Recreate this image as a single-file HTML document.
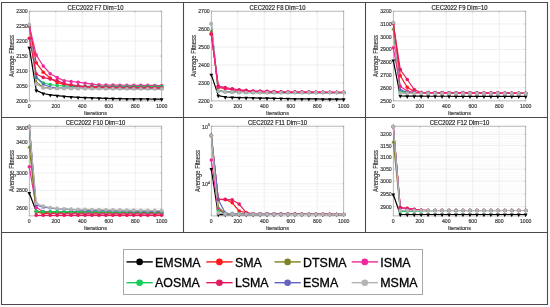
<!DOCTYPE html><html><head><meta charset="utf-8"><style>html,body{margin:0;padding:0;background:#fff;overflow:hidden}svg{display:block;will-change:transform}text{font-family:"Liberation Sans", sans-serif}</style></head><body>
<svg width="550" height="307" viewBox="0 0 550 307">
<rect width="550" height="307" fill="#fff"/>
<g stroke="#e4e4e4" stroke-width="0.6"><line x1="55.78" y1="11.2" x2="55.78" y2="100.9"/><line x1="82.26" y1="11.2" x2="82.26" y2="100.9"/><line x1="108.74" y1="11.2" x2="108.74" y2="100.9"/><line x1="135.22" y1="11.2" x2="135.22" y2="100.9"/><line x1="29.3" y1="85.95" x2="161.7" y2="85.95"/><line x1="29.3" y1="71" x2="161.7" y2="71"/><line x1="29.3" y1="56.05" x2="161.7" y2="56.05"/><line x1="29.3" y1="41.1" x2="161.7" y2="41.1"/><line x1="29.3" y1="26.15" x2="161.7" y2="26.15"/></g>
<g stroke="#a0a0a0" stroke-width="0.6"><line x1="29.3" y1="100.9" x2="29.3" y2="99.6"/><line x1="29.3" y1="11.2" x2="29.3" y2="12.5"/><line x1="55.78" y1="100.9" x2="55.78" y2="99.6"/><line x1="55.78" y1="11.2" x2="55.78" y2="12.5"/><line x1="82.26" y1="100.9" x2="82.26" y2="99.6"/><line x1="82.26" y1="11.2" x2="82.26" y2="12.5"/><line x1="108.74" y1="100.9" x2="108.74" y2="99.6"/><line x1="108.74" y1="11.2" x2="108.74" y2="12.5"/><line x1="135.22" y1="100.9" x2="135.22" y2="99.6"/><line x1="135.22" y1="11.2" x2="135.22" y2="12.5"/><line x1="161.7" y1="100.9" x2="161.7" y2="99.6"/><line x1="161.7" y1="11.2" x2="161.7" y2="12.5"/><line x1="29.3" y1="100.9" x2="30.6" y2="100.9"/><line x1="161.7" y1="100.9" x2="160.4" y2="100.9"/><line x1="29.3" y1="85.95" x2="30.6" y2="85.95"/><line x1="161.7" y1="85.95" x2="160.4" y2="85.95"/><line x1="29.3" y1="71" x2="30.6" y2="71"/><line x1="161.7" y1="71" x2="160.4" y2="71"/><line x1="29.3" y1="56.05" x2="30.6" y2="56.05"/><line x1="161.7" y1="56.05" x2="160.4" y2="56.05"/><line x1="29.3" y1="41.1" x2="30.6" y2="41.1"/><line x1="161.7" y1="41.1" x2="160.4" y2="41.1"/><line x1="29.3" y1="26.15" x2="30.6" y2="26.15"/><line x1="161.7" y1="26.15" x2="160.4" y2="26.15"/><line x1="29.3" y1="11.2" x2="30.6" y2="11.2"/><line x1="161.7" y1="11.2" x2="160.4" y2="11.2"/></g>
<rect x="29.3" y="11.2" width="132.4" height="89.7" fill="none" stroke="#a6a6a6" stroke-width="0.8"/>
<polyline fill="none" stroke="#000000" stroke-width="1.2" stroke-linejoin="round" points="29.3,47.7 36.27,90.4 43.24,93.5 50.21,94.8 57.17,95.6 64.14,96.4 71.11,96.85 78.08,97.3 85.05,97.6 92.02,97.9 98.98,98.15 105.95,98.4 112.92,98.53 119.89,98.65 126.86,98.78 133.83,98.9 140.79,98.95 147.76,99 154.73,99.05 161.7,99.1"/>
<polyline fill="none" stroke="#808026" stroke-width="1.2" stroke-linejoin="round" points="29.3,26.5 36.27,82 43.24,87.5 50.21,87.95 57.17,88.4 64.14,88.43 71.11,88.45 78.08,88.48 85.05,88.51 92.02,88.53 98.98,88.56 105.95,88.59 112.92,88.61 119.89,88.64 126.86,88.67 133.83,88.69 140.79,88.72 147.76,88.75 154.73,88.77 161.7,88.8"/>
<polyline fill="none" stroke="#14cc5a" stroke-width="1.2" stroke-linejoin="round" points="29.3,25 36.27,77.4 43.24,83 50.21,84.5 57.17,85.5 64.14,86 71.11,86.15 78.08,86.3 85.05,86.31 92.02,86.32 98.98,86.33 105.95,86.33 112.92,86.34 119.89,86.35 126.86,86.36 133.83,86.37 140.79,86.38 147.76,86.38 154.73,86.39 161.7,86.4"/>
<polyline fill="none" stroke="#6464c0" stroke-width="1.2" stroke-linejoin="round" points="29.3,24.6 36.27,77.4 43.24,84.2 50.21,87 57.17,88 64.14,88.05 71.11,88.11 78.08,88.16 85.05,88.21 92.02,88.27 98.98,88.32 105.95,88.37 112.92,88.43 119.89,88.48 126.86,88.53 133.83,88.59 140.79,88.64 147.76,88.69 154.73,88.75 161.7,88.8"/>
<polyline fill="none" stroke="#b4b4b4" stroke-width="1.2" stroke-linejoin="round" points="29.3,24.6 36.27,84 43.24,88 50.21,88.3 57.17,88.6 64.14,88.62 71.11,88.64 78.08,88.66 85.05,88.68 92.02,88.7 98.98,88.72 105.95,88.74 112.92,88.76 119.89,88.78 126.86,88.8 133.83,88.82 140.79,88.84 147.76,88.86 154.73,88.88 161.7,88.9"/>
<polyline fill="none" stroke="#ff1a1a" stroke-width="1.2" stroke-linejoin="round" points="29.3,26 36.27,62.8 43.24,72.2 50.21,78 57.17,82.7 64.14,84.3 71.11,85.5 78.08,86.3 85.05,87 92.02,87.15 98.98,87.3 105.95,87.45 112.92,87.6 119.89,87.63 126.86,87.66 133.83,87.69 140.79,87.71 147.76,87.74 154.73,87.77 161.7,87.8"/>
<polyline fill="none" stroke="#e6195c" stroke-width="1.2" stroke-linejoin="round" points="29.3,38.2 36.27,74 43.24,77.4 50.21,79.1 57.17,80.6 64.14,83.5 71.11,84.9 78.08,85.9 85.05,86.6 92.02,86.83 98.98,87.07 105.95,87.3 112.92,87.36 119.89,87.42 126.86,87.49 133.83,87.55 140.79,87.61 147.76,87.67 154.73,87.74 161.7,87.8"/>
<polyline fill="none" stroke="#f0289c" stroke-width="1.2" stroke-linejoin="round" points="29.3,26 36.27,55.1 43.24,66 50.21,73.7 57.17,77.6 64.14,80.7 71.11,81.5 78.08,82.2 85.05,83.2 92.02,84.2 98.98,84.8 105.95,85.1 112.92,85.15 119.89,85.2 126.86,85.25 133.83,85.3 140.79,85.35 147.76,85.4 154.73,85.45 161.7,85.5"/>
<path d="M27.45 46.8L31.15 46.8L29.3 50.4Z" fill="#000000"/><path d="M34.42 89.5L38.12 89.5L36.27 93.1Z" fill="#000000"/><path d="M41.39 92.6L45.09 92.6L43.24 96.2Z" fill="#000000"/><path d="M48.36 93.9L52.06 93.9L50.21 97.5Z" fill="#000000"/><path d="M55.32 94.7L59.02 94.7L57.17 98.3Z" fill="#000000"/><path d="M62.29 95.5L65.99 95.5L64.14 99.1Z" fill="#000000"/><path d="M69.26 95.95L72.96 95.95L71.11 99.55Z" fill="#000000"/><path d="M76.23 96.4L79.93 96.4L78.08 100Z" fill="#000000"/><path d="M83.2 96.7L86.9 96.7L85.05 100.3Z" fill="#000000"/><path d="M90.17 97L93.87 97L92.02 100.6Z" fill="#000000"/><path d="M97.13 97.25L100.83 97.25L98.98 100.85Z" fill="#000000"/><path d="M104.1 97.5L107.8 97.5L105.95 101.1Z" fill="#000000"/><path d="M111.07 97.62L114.77 97.62L112.92 101.23Z" fill="#000000"/><path d="M118.04 97.75L121.74 97.75L119.89 101.35Z" fill="#000000"/><path d="M125.01 97.88L128.71 97.88L126.86 101.48Z" fill="#000000"/><path d="M131.98 98L135.68 98L133.83 101.6Z" fill="#000000"/><path d="M138.94 98.05L142.64 98.05L140.79 101.65Z" fill="#000000"/><path d="M145.91 98.1L149.61 98.1L147.76 101.7Z" fill="#000000"/><path d="M152.88 98.15L156.58 98.15L154.73 101.75Z" fill="#000000"/><path d="M159.85 98.2L163.55 98.2L161.7 101.8Z" fill="#000000"/>
<circle cx="29.3" cy="26" r="1.8" fill="#ff1a1a"/><circle cx="36.27" cy="62.8" r="1.8" fill="#ff1a1a"/><circle cx="43.24" cy="72.2" r="1.8" fill="#ff1a1a"/><circle cx="50.21" cy="78" r="1.8" fill="#ff1a1a"/><circle cx="57.17" cy="82.7" r="1.8" fill="#ff1a1a"/><circle cx="64.14" cy="84.3" r="1.8" fill="#ff1a1a"/><circle cx="71.11" cy="85.5" r="1.8" fill="#ff1a1a"/><circle cx="78.08" cy="86.3" r="1.8" fill="#ff1a1a"/><circle cx="85.05" cy="87" r="1.8" fill="#ff1a1a"/><circle cx="92.02" cy="87.15" r="1.8" fill="#ff1a1a"/><circle cx="98.98" cy="87.3" r="1.8" fill="#ff1a1a"/><circle cx="105.95" cy="87.45" r="1.8" fill="#ff1a1a"/><circle cx="112.92" cy="87.6" r="1.8" fill="#ff1a1a"/><circle cx="119.89" cy="87.63" r="1.8" fill="#ff1a1a"/><circle cx="126.86" cy="87.66" r="1.8" fill="#ff1a1a"/><circle cx="133.83" cy="87.69" r="1.8" fill="#ff1a1a"/><circle cx="140.79" cy="87.71" r="1.8" fill="#ff1a1a"/><circle cx="147.76" cy="87.74" r="1.8" fill="#ff1a1a"/><circle cx="154.73" cy="87.77" r="1.8" fill="#ff1a1a"/><circle cx="161.7" cy="87.8" r="1.8" fill="#ff1a1a"/>
<path d="M27.4 27.8L31.2 27.8L29.3 24.3Z" fill="#808026"/><path d="M34.37 83.3L38.17 83.3L36.27 79.8Z" fill="#808026"/><path d="M41.34 88.8L45.14 88.8L43.24 85.3Z" fill="#808026"/><path d="M48.31 89.25L52.11 89.25L50.21 85.75Z" fill="#808026"/><path d="M55.27 89.7L59.07 89.7L57.17 86.2Z" fill="#808026"/><path d="M62.24 89.73L66.04 89.73L64.14 86.23Z" fill="#808026"/><path d="M69.21 89.75L73.01 89.75L71.11 86.25Z" fill="#808026"/><path d="M76.18 89.78L79.98 89.78L78.08 86.28Z" fill="#808026"/><path d="M83.15 89.81L86.95 89.81L85.05 86.31Z" fill="#808026"/><path d="M90.12 89.83L93.92 89.83L92.02 86.33Z" fill="#808026"/><path d="M97.08 89.86L100.88 89.86L98.98 86.36Z" fill="#808026"/><path d="M104.05 89.89L107.85 89.89L105.95 86.39Z" fill="#808026"/><path d="M111.02 89.91L114.82 89.91L112.92 86.41Z" fill="#808026"/><path d="M117.99 89.94L121.79 89.94L119.89 86.44Z" fill="#808026"/><path d="M124.96 89.97L128.76 89.97L126.86 86.47Z" fill="#808026"/><path d="M131.93 89.99L135.73 89.99L133.83 86.49Z" fill="#808026"/><path d="M138.89 90.02L142.69 90.02L140.79 86.52Z" fill="#808026"/><path d="M145.86 90.05L149.66 90.05L147.76 86.55Z" fill="#808026"/><path d="M152.83 90.07L156.63 90.07L154.73 86.57Z" fill="#808026"/><path d="M159.8 90.1L163.6 90.1L161.7 86.6Z" fill="#808026"/>
<circle cx="29.3" cy="26" r="1.8" fill="#f0289c"/><circle cx="36.27" cy="55.1" r="1.8" fill="#f0289c"/><circle cx="43.24" cy="66" r="1.8" fill="#f0289c"/><circle cx="50.21" cy="73.7" r="1.8" fill="#f0289c"/><circle cx="57.17" cy="77.6" r="1.8" fill="#f0289c"/><circle cx="64.14" cy="80.7" r="1.8" fill="#f0289c"/><circle cx="71.11" cy="81.5" r="1.8" fill="#f0289c"/><circle cx="78.08" cy="82.2" r="1.8" fill="#f0289c"/><circle cx="85.05" cy="83.2" r="1.8" fill="#f0289c"/><circle cx="92.02" cy="84.2" r="1.8" fill="#f0289c"/><circle cx="98.98" cy="84.8" r="1.8" fill="#f0289c"/><circle cx="105.95" cy="85.1" r="1.8" fill="#f0289c"/><circle cx="112.92" cy="85.15" r="1.8" fill="#f0289c"/><circle cx="119.89" cy="85.2" r="1.8" fill="#f0289c"/><circle cx="126.86" cy="85.25" r="1.8" fill="#f0289c"/><circle cx="133.83" cy="85.3" r="1.8" fill="#f0289c"/><circle cx="140.79" cy="85.35" r="1.8" fill="#f0289c"/><circle cx="147.76" cy="85.4" r="1.8" fill="#f0289c"/><circle cx="154.73" cy="85.45" r="1.8" fill="#f0289c"/><circle cx="161.7" cy="85.5" r="1.8" fill="#f0289c"/>
<circle cx="29.3" cy="25" r="1.8" fill="#14cc5a"/><circle cx="36.27" cy="77.4" r="1.8" fill="#14cc5a"/><circle cx="43.24" cy="83" r="1.8" fill="#14cc5a"/><circle cx="50.21" cy="84.5" r="1.8" fill="#14cc5a"/><circle cx="57.17" cy="85.5" r="1.8" fill="#14cc5a"/><circle cx="64.14" cy="86" r="1.8" fill="#14cc5a"/><circle cx="71.11" cy="86.15" r="1.8" fill="#14cc5a"/><circle cx="78.08" cy="86.3" r="1.8" fill="#14cc5a"/><circle cx="85.05" cy="86.31" r="1.8" fill="#14cc5a"/><circle cx="92.02" cy="86.32" r="1.8" fill="#14cc5a"/><circle cx="98.98" cy="86.33" r="1.8" fill="#14cc5a"/><circle cx="105.95" cy="86.33" r="1.8" fill="#14cc5a"/><circle cx="112.92" cy="86.34" r="1.8" fill="#14cc5a"/><circle cx="119.89" cy="86.35" r="1.8" fill="#14cc5a"/><circle cx="126.86" cy="86.36" r="1.8" fill="#14cc5a"/><circle cx="133.83" cy="86.37" r="1.8" fill="#14cc5a"/><circle cx="140.79" cy="86.38" r="1.8" fill="#14cc5a"/><circle cx="147.76" cy="86.38" r="1.8" fill="#14cc5a"/><circle cx="154.73" cy="86.39" r="1.8" fill="#14cc5a"/><circle cx="161.7" cy="86.4" r="1.8" fill="#14cc5a"/>
<circle cx="29.3" cy="38.2" r="1.8" fill="#e6195c"/><circle cx="36.27" cy="74" r="1.8" fill="#e6195c"/><circle cx="43.24" cy="77.4" r="1.8" fill="#e6195c"/><circle cx="50.21" cy="79.1" r="1.8" fill="#e6195c"/><circle cx="57.17" cy="80.6" r="1.8" fill="#e6195c"/><circle cx="64.14" cy="83.5" r="1.8" fill="#e6195c"/><circle cx="71.11" cy="84.9" r="1.8" fill="#e6195c"/><circle cx="78.08" cy="85.9" r="1.8" fill="#e6195c"/><circle cx="85.05" cy="86.6" r="1.8" fill="#e6195c"/><circle cx="92.02" cy="86.83" r="1.8" fill="#e6195c"/><circle cx="98.98" cy="87.07" r="1.8" fill="#e6195c"/><circle cx="105.95" cy="87.3" r="1.8" fill="#e6195c"/><circle cx="112.92" cy="87.36" r="1.8" fill="#e6195c"/><circle cx="119.89" cy="87.42" r="1.8" fill="#e6195c"/><circle cx="126.86" cy="87.49" r="1.8" fill="#e6195c"/><circle cx="133.83" cy="87.55" r="1.8" fill="#e6195c"/><circle cx="140.79" cy="87.61" r="1.8" fill="#e6195c"/><circle cx="147.76" cy="87.67" r="1.8" fill="#e6195c"/><circle cx="154.73" cy="87.74" r="1.8" fill="#e6195c"/><circle cx="161.7" cy="87.8" r="1.8" fill="#e6195c"/>
<path d="M27.4 25.9L31.2 25.9L29.3 22.4Z" fill="#6464c0"/><path d="M34.37 78.7L38.17 78.7L36.27 75.2Z" fill="#6464c0"/><path d="M41.34 85.5L45.14 85.5L43.24 82Z" fill="#6464c0"/><path d="M48.31 88.3L52.11 88.3L50.21 84.8Z" fill="#6464c0"/><path d="M55.27 89.3L59.07 89.3L57.17 85.8Z" fill="#6464c0"/><path d="M62.24 89.35L66.04 89.35L64.14 85.85Z" fill="#6464c0"/><path d="M69.21 89.41L73.01 89.41L71.11 85.91Z" fill="#6464c0"/><path d="M76.18 89.46L79.98 89.46L78.08 85.96Z" fill="#6464c0"/><path d="M83.15 89.51L86.95 89.51L85.05 86.01Z" fill="#6464c0"/><path d="M90.12 89.57L93.92 89.57L92.02 86.07Z" fill="#6464c0"/><path d="M97.08 89.62L100.88 89.62L98.98 86.12Z" fill="#6464c0"/><path d="M104.05 89.67L107.85 89.67L105.95 86.17Z" fill="#6464c0"/><path d="M111.02 89.73L114.82 89.73L112.92 86.23Z" fill="#6464c0"/><path d="M117.99 89.78L121.79 89.78L119.89 86.28Z" fill="#6464c0"/><path d="M124.96 89.83L128.76 89.83L126.86 86.33Z" fill="#6464c0"/><path d="M131.93 89.89L135.73 89.89L133.83 86.39Z" fill="#6464c0"/><path d="M138.89 89.94L142.69 89.94L140.79 86.44Z" fill="#6464c0"/><path d="M145.86 89.99L149.66 89.99L147.76 86.49Z" fill="#6464c0"/><path d="M152.83 90.05L156.63 90.05L154.73 86.55Z" fill="#6464c0"/><path d="M159.8 90.1L163.6 90.1L161.7 86.6Z" fill="#6464c0"/>
<circle cx="29.3" cy="24.6" r="1.9" fill="#b4b4b4"/><circle cx="36.27" cy="84" r="1.9" fill="#b4b4b4"/><circle cx="43.24" cy="88" r="1.9" fill="#b4b4b4"/><circle cx="50.21" cy="88.3" r="1.9" fill="#b4b4b4"/><circle cx="57.17" cy="88.6" r="1.9" fill="#b4b4b4"/><circle cx="64.14" cy="88.62" r="1.9" fill="#b4b4b4"/><circle cx="71.11" cy="88.64" r="1.9" fill="#b4b4b4"/><circle cx="78.08" cy="88.66" r="1.9" fill="#b4b4b4"/><circle cx="85.05" cy="88.68" r="1.9" fill="#b4b4b4"/><circle cx="92.02" cy="88.7" r="1.9" fill="#b4b4b4"/><circle cx="98.98" cy="88.72" r="1.9" fill="#b4b4b4"/><circle cx="105.95" cy="88.74" r="1.9" fill="#b4b4b4"/><circle cx="112.92" cy="88.76" r="1.9" fill="#b4b4b4"/><circle cx="119.89" cy="88.78" r="1.9" fill="#b4b4b4"/><circle cx="126.86" cy="88.8" r="1.9" fill="#b4b4b4"/><circle cx="133.83" cy="88.82" r="1.9" fill="#b4b4b4"/><circle cx="140.79" cy="88.84" r="1.9" fill="#b4b4b4"/><circle cx="147.76" cy="88.86" r="1.9" fill="#b4b4b4"/><circle cx="154.73" cy="88.88" r="1.9" fill="#b4b4b4"/><circle cx="161.7" cy="88.9" r="1.9" fill="#b4b4b4"/>
<g fill="#333" stroke="#333" stroke-width="0.15"><text transform="translate(27.7 102.9) scale(1 1.12)" text-anchor="end" font-size="5.2">2000</text><text transform="translate(27.7 87.95) scale(1 1.12)" text-anchor="end" font-size="5.2">2050</text><text transform="translate(27.7 73) scale(1 1.12)" text-anchor="end" font-size="5.2">2100</text><text transform="translate(27.7 58.05) scale(1 1.12)" text-anchor="end" font-size="5.2">2150</text><text transform="translate(27.7 43.1) scale(1 1.12)" text-anchor="end" font-size="5.2">2200</text><text transform="translate(27.7 28.15) scale(1 1.12)" text-anchor="end" font-size="5.2">2250</text><text transform="translate(27.7 13.2) scale(1 1.12)" text-anchor="end" font-size="5.2">2300</text><text transform="translate(29.3 107.5) scale(1 1.12)" text-anchor="middle" font-size="5.2">0</text><text transform="translate(55.78 107.5) scale(1 1.12)" text-anchor="middle" font-size="5.2">200</text><text transform="translate(82.26 107.5) scale(1 1.12)" text-anchor="middle" font-size="5.2">400</text><text transform="translate(108.74 107.5) scale(1 1.12)" text-anchor="middle" font-size="5.2">600</text><text transform="translate(135.22 107.5) scale(1 1.12)" text-anchor="middle" font-size="5.2">800</text><text transform="translate(161.7 107.5) scale(1 1.12)" text-anchor="middle" font-size="5.2">1000</text><text transform="translate(95.5 114.7) scale(1 1.12)" text-anchor="middle" font-size="5.6">Iterations</text><text transform="translate(14 56.05) rotate(-90) scale(1 1.12)" text-anchor="middle" font-size="5.8">Average Fitness</text></g>
<g fill="#222" stroke="#222" stroke-width="0.16"><text transform="translate(95.5 9.8) scale(1 1.12)" text-anchor="middle" font-size="5.9">CEC2022 F7 Dim=10</text></g>
<g stroke="#e4e4e4" stroke-width="0.6"><line x1="237.78" y1="11.2" x2="237.78" y2="100.9"/><line x1="264.26" y1="11.2" x2="264.26" y2="100.9"/><line x1="290.74" y1="11.2" x2="290.74" y2="100.9"/><line x1="317.22" y1="11.2" x2="317.22" y2="100.9"/><line x1="211.3" y1="83.02" x2="343.7" y2="83.02"/><line x1="211.3" y1="65.04" x2="343.7" y2="65.04"/><line x1="211.3" y1="47.06" x2="343.7" y2="47.06"/><line x1="211.3" y1="29.08" x2="343.7" y2="29.08"/></g>
<g stroke="#a0a0a0" stroke-width="0.6"><line x1="211.3" y1="100.9" x2="211.3" y2="99.6"/><line x1="211.3" y1="11.2" x2="211.3" y2="12.5"/><line x1="237.78" y1="100.9" x2="237.78" y2="99.6"/><line x1="237.78" y1="11.2" x2="237.78" y2="12.5"/><line x1="264.26" y1="100.9" x2="264.26" y2="99.6"/><line x1="264.26" y1="11.2" x2="264.26" y2="12.5"/><line x1="290.74" y1="100.9" x2="290.74" y2="99.6"/><line x1="290.74" y1="11.2" x2="290.74" y2="12.5"/><line x1="317.22" y1="100.9" x2="317.22" y2="99.6"/><line x1="317.22" y1="11.2" x2="317.22" y2="12.5"/><line x1="343.7" y1="100.9" x2="343.7" y2="99.6"/><line x1="343.7" y1="11.2" x2="343.7" y2="12.5"/><line x1="211.3" y1="101" x2="212.6" y2="101"/><line x1="343.7" y1="101" x2="342.4" y2="101"/><line x1="211.3" y1="83.02" x2="212.6" y2="83.02"/><line x1="343.7" y1="83.02" x2="342.4" y2="83.02"/><line x1="211.3" y1="65.04" x2="212.6" y2="65.04"/><line x1="343.7" y1="65.04" x2="342.4" y2="65.04"/><line x1="211.3" y1="47.06" x2="212.6" y2="47.06"/><line x1="343.7" y1="47.06" x2="342.4" y2="47.06"/><line x1="211.3" y1="29.08" x2="212.6" y2="29.08"/><line x1="343.7" y1="29.08" x2="342.4" y2="29.08"/><line x1="211.3" y1="11.1" x2="212.6" y2="11.1"/><line x1="343.7" y1="11.1" x2="342.4" y2="11.1"/></g>
<rect x="211.3" y="11.2" width="132.4" height="89.7" fill="none" stroke="#a6a6a6" stroke-width="0.8"/>
<polyline fill="none" stroke="#000000" stroke-width="1.2" stroke-linejoin="round" points="211.3,74.6 218.27,95.6 225.24,97 232.21,97.3 239.17,97.6 246.14,97.75 253.11,97.9 260.08,98.05 267.05,98.2 274.02,98.35 280.98,98.5 287.95,98.65 294.92,98.8 301.89,98.86 308.86,98.91 315.83,98.97 322.79,99.03 329.76,99.09 336.73,99.14 343.7,99.2"/>
<polyline fill="none" stroke="#808026" stroke-width="1.2" stroke-linejoin="round" points="211.3,31.2 218.27,90.5 225.24,91.5 232.21,91.9 239.17,92.3 246.14,92.38 253.11,92.45 260.08,92.52 267.05,92.6 274.02,92.61 280.98,92.62 287.95,92.63 294.92,92.64 301.89,92.65 308.86,92.65 315.83,92.66 322.79,92.67 329.76,92.68 336.73,92.69 343.7,92.7"/>
<polyline fill="none" stroke="#14cc5a" stroke-width="1.2" stroke-linejoin="round" points="211.3,23.8 218.27,91.2 225.24,92 232.21,92.25 239.17,92.5 246.14,92.53 253.11,92.55 260.08,92.57 267.05,92.6 274.02,92.6 280.98,92.6 287.95,92.6 294.92,92.6 301.89,92.6 308.86,92.6 315.83,92.6 322.79,92.6 329.76,92.6 336.73,92.6 343.7,92.6"/>
<polyline fill="none" stroke="#6464c0" stroke-width="1.2" stroke-linejoin="round" points="211.3,23.7 218.27,90.8 225.24,91.8 232.21,92.1 239.17,92.4 246.14,92.45 253.11,92.5 260.08,92.55 267.05,92.6 274.02,92.61 280.98,92.62 287.95,92.63 294.92,92.64 301.89,92.65 308.86,92.65 315.83,92.66 322.79,92.67 329.76,92.68 336.73,92.69 343.7,92.7"/>
<polyline fill="none" stroke="#b4b4b4" stroke-width="1.2" stroke-linejoin="round" points="211.3,23.8 218.27,91 225.24,92 232.21,92.25 239.17,92.5 246.14,92.53 253.11,92.55 260.08,92.57 267.05,92.6 274.02,92.6 280.98,92.6 287.95,92.6 294.92,92.6 301.89,92.6 308.86,92.6 315.83,92.6 322.79,92.6 329.76,92.6 336.73,92.6 343.7,92.6"/>
<polyline fill="none" stroke="#ff1a1a" stroke-width="1.2" stroke-linejoin="round" points="211.3,34 218.27,87.5 225.24,88.6 232.21,89.6 239.17,90.6 246.14,91.1 253.11,91.6 260.08,91.75 267.05,91.9 274.02,92.05 280.98,92.2 287.95,92.23 294.92,92.27 301.89,92.3 308.86,92.33 315.83,92.37 322.79,92.4 329.76,92.43 336.73,92.47 343.7,92.5"/>
<polyline fill="none" stroke="#e6195c" stroke-width="1.2" stroke-linejoin="round" points="211.3,34 218.27,86 225.24,87.6 232.21,88.8 239.17,89.8 246.14,90.4 253.11,91 260.08,91.2 267.05,91.4 274.02,91.6 280.98,91.8 287.95,92 294.92,92.05 301.89,92.1 308.86,92.15 315.83,92.2 322.79,92.25 329.76,92.3 336.73,92.35 343.7,92.4"/>
<polyline fill="none" stroke="#f0289c" stroke-width="1.2" stroke-linejoin="round" points="211.3,34.2 218.27,86.4 225.24,88.2 232.21,89.2 239.17,90.2 246.14,90.7 253.11,91.2 260.08,91.4 267.05,91.6 274.02,91.8 280.98,92 287.95,92.04 294.92,92.09 301.89,92.13 308.86,92.18 315.83,92.22 322.79,92.27 329.76,92.31 336.73,92.36 343.7,92.4"/>
<path d="M209.45 73.7L213.15 73.7L211.3 77.3Z" fill="#000000"/><path d="M216.42 94.7L220.12 94.7L218.27 98.3Z" fill="#000000"/><path d="M223.39 96.1L227.09 96.1L225.24 99.7Z" fill="#000000"/><path d="M230.36 96.4L234.06 96.4L232.21 100Z" fill="#000000"/><path d="M237.32 96.7L241.02 96.7L239.17 100.3Z" fill="#000000"/><path d="M244.29 96.85L247.99 96.85L246.14 100.45Z" fill="#000000"/><path d="M251.26 97L254.96 97L253.11 100.6Z" fill="#000000"/><path d="M258.23 97.15L261.93 97.15L260.08 100.75Z" fill="#000000"/><path d="M265.2 97.3L268.9 97.3L267.05 100.9Z" fill="#000000"/><path d="M272.17 97.45L275.87 97.45L274.02 101.05Z" fill="#000000"/><path d="M279.13 97.6L282.83 97.6L280.98 101.2Z" fill="#000000"/><path d="M286.1 97.75L289.8 97.75L287.95 101.35Z" fill="#000000"/><path d="M293.07 97.9L296.77 97.9L294.92 101.5Z" fill="#000000"/><path d="M300.04 97.96L303.74 97.96L301.89 101.56Z" fill="#000000"/><path d="M307.01 98.01L310.71 98.01L308.86 101.61Z" fill="#000000"/><path d="M313.98 98.07L317.68 98.07L315.83 101.67Z" fill="#000000"/><path d="M320.94 98.13L324.64 98.13L322.79 101.73Z" fill="#000000"/><path d="M327.91 98.19L331.61 98.19L329.76 101.79Z" fill="#000000"/><path d="M334.88 98.24L338.58 98.24L336.73 101.84Z" fill="#000000"/><path d="M341.85 98.3L345.55 98.3L343.7 101.9Z" fill="#000000"/>
<circle cx="211.3" cy="34" r="1.8" fill="#ff1a1a"/><circle cx="218.27" cy="87.5" r="1.8" fill="#ff1a1a"/><circle cx="225.24" cy="88.6" r="1.8" fill="#ff1a1a"/><circle cx="232.21" cy="89.6" r="1.8" fill="#ff1a1a"/><circle cx="239.17" cy="90.6" r="1.8" fill="#ff1a1a"/><circle cx="246.14" cy="91.1" r="1.8" fill="#ff1a1a"/><circle cx="253.11" cy="91.6" r="1.8" fill="#ff1a1a"/><circle cx="260.08" cy="91.75" r="1.8" fill="#ff1a1a"/><circle cx="267.05" cy="91.9" r="1.8" fill="#ff1a1a"/><circle cx="274.02" cy="92.05" r="1.8" fill="#ff1a1a"/><circle cx="280.98" cy="92.2" r="1.8" fill="#ff1a1a"/><circle cx="287.95" cy="92.23" r="1.8" fill="#ff1a1a"/><circle cx="294.92" cy="92.27" r="1.8" fill="#ff1a1a"/><circle cx="301.89" cy="92.3" r="1.8" fill="#ff1a1a"/><circle cx="308.86" cy="92.33" r="1.8" fill="#ff1a1a"/><circle cx="315.83" cy="92.37" r="1.8" fill="#ff1a1a"/><circle cx="322.79" cy="92.4" r="1.8" fill="#ff1a1a"/><circle cx="329.76" cy="92.43" r="1.8" fill="#ff1a1a"/><circle cx="336.73" cy="92.47" r="1.8" fill="#ff1a1a"/><circle cx="343.7" cy="92.5" r="1.8" fill="#ff1a1a"/>
<path d="M209.4 32.5L213.2 32.5L211.3 29Z" fill="#808026"/><path d="M216.37 91.8L220.17 91.8L218.27 88.3Z" fill="#808026"/><path d="M223.34 92.8L227.14 92.8L225.24 89.3Z" fill="#808026"/><path d="M230.31 93.2L234.11 93.2L232.21 89.7Z" fill="#808026"/><path d="M237.27 93.6L241.07 93.6L239.17 90.1Z" fill="#808026"/><path d="M244.24 93.67L248.04 93.67L246.14 90.17Z" fill="#808026"/><path d="M251.21 93.75L255.01 93.75L253.11 90.25Z" fill="#808026"/><path d="M258.18 93.82L261.98 93.82L260.08 90.32Z" fill="#808026"/><path d="M265.15 93.9L268.95 93.9L267.05 90.4Z" fill="#808026"/><path d="M272.12 93.91L275.92 93.91L274.02 90.41Z" fill="#808026"/><path d="M279.08 93.92L282.88 93.92L280.98 90.42Z" fill="#808026"/><path d="M286.05 93.93L289.85 93.93L287.95 90.43Z" fill="#808026"/><path d="M293.02 93.94L296.82 93.94L294.92 90.44Z" fill="#808026"/><path d="M299.99 93.95L303.79 93.95L301.89 90.45Z" fill="#808026"/><path d="M306.96 93.95L310.76 93.95L308.86 90.45Z" fill="#808026"/><path d="M313.93 93.96L317.73 93.96L315.83 90.46Z" fill="#808026"/><path d="M320.89 93.97L324.69 93.97L322.79 90.47Z" fill="#808026"/><path d="M327.86 93.98L331.66 93.98L329.76 90.48Z" fill="#808026"/><path d="M334.83 93.99L338.63 93.99L336.73 90.49Z" fill="#808026"/><path d="M341.8 94L345.6 94L343.7 90.5Z" fill="#808026"/>
<circle cx="211.3" cy="34.2" r="1.8" fill="#f0289c"/><circle cx="218.27" cy="86.4" r="1.8" fill="#f0289c"/><circle cx="225.24" cy="88.2" r="1.8" fill="#f0289c"/><circle cx="232.21" cy="89.2" r="1.8" fill="#f0289c"/><circle cx="239.17" cy="90.2" r="1.8" fill="#f0289c"/><circle cx="246.14" cy="90.7" r="1.8" fill="#f0289c"/><circle cx="253.11" cy="91.2" r="1.8" fill="#f0289c"/><circle cx="260.08" cy="91.4" r="1.8" fill="#f0289c"/><circle cx="267.05" cy="91.6" r="1.8" fill="#f0289c"/><circle cx="274.02" cy="91.8" r="1.8" fill="#f0289c"/><circle cx="280.98" cy="92" r="1.8" fill="#f0289c"/><circle cx="287.95" cy="92.04" r="1.8" fill="#f0289c"/><circle cx="294.92" cy="92.09" r="1.8" fill="#f0289c"/><circle cx="301.89" cy="92.13" r="1.8" fill="#f0289c"/><circle cx="308.86" cy="92.18" r="1.8" fill="#f0289c"/><circle cx="315.83" cy="92.22" r="1.8" fill="#f0289c"/><circle cx="322.79" cy="92.27" r="1.8" fill="#f0289c"/><circle cx="329.76" cy="92.31" r="1.8" fill="#f0289c"/><circle cx="336.73" cy="92.36" r="1.8" fill="#f0289c"/><circle cx="343.7" cy="92.4" r="1.8" fill="#f0289c"/>
<circle cx="211.3" cy="23.8" r="1.8" fill="#14cc5a"/><circle cx="218.27" cy="91.2" r="1.8" fill="#14cc5a"/><circle cx="225.24" cy="92" r="1.8" fill="#14cc5a"/><circle cx="232.21" cy="92.25" r="1.8" fill="#14cc5a"/><circle cx="239.17" cy="92.5" r="1.8" fill="#14cc5a"/><circle cx="246.14" cy="92.53" r="1.8" fill="#14cc5a"/><circle cx="253.11" cy="92.55" r="1.8" fill="#14cc5a"/><circle cx="260.08" cy="92.57" r="1.8" fill="#14cc5a"/><circle cx="267.05" cy="92.6" r="1.8" fill="#14cc5a"/><circle cx="274.02" cy="92.6" r="1.8" fill="#14cc5a"/><circle cx="280.98" cy="92.6" r="1.8" fill="#14cc5a"/><circle cx="287.95" cy="92.6" r="1.8" fill="#14cc5a"/><circle cx="294.92" cy="92.6" r="1.8" fill="#14cc5a"/><circle cx="301.89" cy="92.6" r="1.8" fill="#14cc5a"/><circle cx="308.86" cy="92.6" r="1.8" fill="#14cc5a"/><circle cx="315.83" cy="92.6" r="1.8" fill="#14cc5a"/><circle cx="322.79" cy="92.6" r="1.8" fill="#14cc5a"/><circle cx="329.76" cy="92.6" r="1.8" fill="#14cc5a"/><circle cx="336.73" cy="92.6" r="1.8" fill="#14cc5a"/><circle cx="343.7" cy="92.6" r="1.8" fill="#14cc5a"/>
<circle cx="211.3" cy="34" r="1.8" fill="#e6195c"/><circle cx="218.27" cy="86" r="1.8" fill="#e6195c"/><circle cx="225.24" cy="87.6" r="1.8" fill="#e6195c"/><circle cx="232.21" cy="88.8" r="1.8" fill="#e6195c"/><circle cx="239.17" cy="89.8" r="1.8" fill="#e6195c"/><circle cx="246.14" cy="90.4" r="1.8" fill="#e6195c"/><circle cx="253.11" cy="91" r="1.8" fill="#e6195c"/><circle cx="260.08" cy="91.2" r="1.8" fill="#e6195c"/><circle cx="267.05" cy="91.4" r="1.8" fill="#e6195c"/><circle cx="274.02" cy="91.6" r="1.8" fill="#e6195c"/><circle cx="280.98" cy="91.8" r="1.8" fill="#e6195c"/><circle cx="287.95" cy="92" r="1.8" fill="#e6195c"/><circle cx="294.92" cy="92.05" r="1.8" fill="#e6195c"/><circle cx="301.89" cy="92.1" r="1.8" fill="#e6195c"/><circle cx="308.86" cy="92.15" r="1.8" fill="#e6195c"/><circle cx="315.83" cy="92.2" r="1.8" fill="#e6195c"/><circle cx="322.79" cy="92.25" r="1.8" fill="#e6195c"/><circle cx="329.76" cy="92.3" r="1.8" fill="#e6195c"/><circle cx="336.73" cy="92.35" r="1.8" fill="#e6195c"/><circle cx="343.7" cy="92.4" r="1.8" fill="#e6195c"/>
<path d="M209.4 25L213.2 25L211.3 21.5Z" fill="#6464c0"/><path d="M216.37 92.1L220.17 92.1L218.27 88.6Z" fill="#6464c0"/><path d="M223.34 93.1L227.14 93.1L225.24 89.6Z" fill="#6464c0"/><path d="M230.31 93.4L234.11 93.4L232.21 89.9Z" fill="#6464c0"/><path d="M237.27 93.7L241.07 93.7L239.17 90.2Z" fill="#6464c0"/><path d="M244.24 93.75L248.04 93.75L246.14 90.25Z" fill="#6464c0"/><path d="M251.21 93.8L255.01 93.8L253.11 90.3Z" fill="#6464c0"/><path d="M258.18 93.85L261.98 93.85L260.08 90.35Z" fill="#6464c0"/><path d="M265.15 93.9L268.95 93.9L267.05 90.4Z" fill="#6464c0"/><path d="M272.12 93.91L275.92 93.91L274.02 90.41Z" fill="#6464c0"/><path d="M279.08 93.92L282.88 93.92L280.98 90.42Z" fill="#6464c0"/><path d="M286.05 93.93L289.85 93.93L287.95 90.43Z" fill="#6464c0"/><path d="M293.02 93.94L296.82 93.94L294.92 90.44Z" fill="#6464c0"/><path d="M299.99 93.95L303.79 93.95L301.89 90.45Z" fill="#6464c0"/><path d="M306.96 93.95L310.76 93.95L308.86 90.45Z" fill="#6464c0"/><path d="M313.93 93.96L317.73 93.96L315.83 90.46Z" fill="#6464c0"/><path d="M320.89 93.97L324.69 93.97L322.79 90.47Z" fill="#6464c0"/><path d="M327.86 93.98L331.66 93.98L329.76 90.48Z" fill="#6464c0"/><path d="M334.83 93.99L338.63 93.99L336.73 90.49Z" fill="#6464c0"/><path d="M341.8 94L345.6 94L343.7 90.5Z" fill="#6464c0"/>
<circle cx="211.3" cy="23.8" r="1.9" fill="#b4b4b4"/><circle cx="218.27" cy="91" r="1.9" fill="#b4b4b4"/><circle cx="225.24" cy="92" r="1.9" fill="#b4b4b4"/><circle cx="232.21" cy="92.25" r="1.9" fill="#b4b4b4"/><circle cx="239.17" cy="92.5" r="1.9" fill="#b4b4b4"/><circle cx="246.14" cy="92.53" r="1.9" fill="#b4b4b4"/><circle cx="253.11" cy="92.55" r="1.9" fill="#b4b4b4"/><circle cx="260.08" cy="92.57" r="1.9" fill="#b4b4b4"/><circle cx="267.05" cy="92.6" r="1.9" fill="#b4b4b4"/><circle cx="274.02" cy="92.6" r="1.9" fill="#b4b4b4"/><circle cx="280.98" cy="92.6" r="1.9" fill="#b4b4b4"/><circle cx="287.95" cy="92.6" r="1.9" fill="#b4b4b4"/><circle cx="294.92" cy="92.6" r="1.9" fill="#b4b4b4"/><circle cx="301.89" cy="92.6" r="1.9" fill="#b4b4b4"/><circle cx="308.86" cy="92.6" r="1.9" fill="#b4b4b4"/><circle cx="315.83" cy="92.6" r="1.9" fill="#b4b4b4"/><circle cx="322.79" cy="92.6" r="1.9" fill="#b4b4b4"/><circle cx="329.76" cy="92.6" r="1.9" fill="#b4b4b4"/><circle cx="336.73" cy="92.6" r="1.9" fill="#b4b4b4"/><circle cx="343.7" cy="92.6" r="1.9" fill="#b4b4b4"/>
<g fill="#333" stroke="#333" stroke-width="0.15"><text transform="translate(209.7 103) scale(1 1.12)" text-anchor="end" font-size="5.2">2200</text><text transform="translate(209.7 85.02) scale(1 1.12)" text-anchor="end" font-size="5.2">2300</text><text transform="translate(209.7 67.04) scale(1 1.12)" text-anchor="end" font-size="5.2">2400</text><text transform="translate(209.7 49.06) scale(1 1.12)" text-anchor="end" font-size="5.2">2500</text><text transform="translate(209.7 31.08) scale(1 1.12)" text-anchor="end" font-size="5.2">2600</text><text transform="translate(209.7 13.1) scale(1 1.12)" text-anchor="end" font-size="5.2">2700</text><text transform="translate(211.3 107.5) scale(1 1.12)" text-anchor="middle" font-size="5.2">0</text><text transform="translate(237.78 107.5) scale(1 1.12)" text-anchor="middle" font-size="5.2">200</text><text transform="translate(264.26 107.5) scale(1 1.12)" text-anchor="middle" font-size="5.2">400</text><text transform="translate(290.74 107.5) scale(1 1.12)" text-anchor="middle" font-size="5.2">600</text><text transform="translate(317.22 107.5) scale(1 1.12)" text-anchor="middle" font-size="5.2">800</text><text transform="translate(343.7 107.5) scale(1 1.12)" text-anchor="middle" font-size="5.2">1000</text><text transform="translate(277.5 114.7) scale(1 1.12)" text-anchor="middle" font-size="5.6">Iterations</text><text transform="translate(196 56.05) rotate(-90) scale(1 1.12)" text-anchor="middle" font-size="5.8">Average Fitness</text></g>
<g fill="#222" stroke="#222" stroke-width="0.16"><text transform="translate(277.5 9.8) scale(1 1.12)" text-anchor="middle" font-size="5.9">CEC2022 F8 Dim=10</text></g>
<g stroke="#e4e4e4" stroke-width="0.6"><line x1="419.78" y1="11.2" x2="419.78" y2="100.9"/><line x1="446.26" y1="11.2" x2="446.26" y2="100.9"/><line x1="472.74" y1="11.2" x2="472.74" y2="100.9"/><line x1="499.22" y1="11.2" x2="499.22" y2="100.9"/><line x1="393.3" y1="87.74" x2="525.7" y2="87.74"/><line x1="393.3" y1="74.99" x2="525.7" y2="74.99"/><line x1="393.3" y1="62.23" x2="525.7" y2="62.23"/><line x1="393.3" y1="49.47" x2="525.7" y2="49.47"/><line x1="393.3" y1="36.71" x2="525.7" y2="36.71"/><line x1="393.3" y1="23.96" x2="525.7" y2="23.96"/></g>
<g stroke="#a0a0a0" stroke-width="0.6"><line x1="393.3" y1="100.9" x2="393.3" y2="99.6"/><line x1="393.3" y1="11.2" x2="393.3" y2="12.5"/><line x1="419.78" y1="100.9" x2="419.78" y2="99.6"/><line x1="419.78" y1="11.2" x2="419.78" y2="12.5"/><line x1="446.26" y1="100.9" x2="446.26" y2="99.6"/><line x1="446.26" y1="11.2" x2="446.26" y2="12.5"/><line x1="472.74" y1="100.9" x2="472.74" y2="99.6"/><line x1="472.74" y1="11.2" x2="472.74" y2="12.5"/><line x1="499.22" y1="100.9" x2="499.22" y2="99.6"/><line x1="499.22" y1="11.2" x2="499.22" y2="12.5"/><line x1="525.7" y1="100.9" x2="525.7" y2="99.6"/><line x1="525.7" y1="11.2" x2="525.7" y2="12.5"/><line x1="393.3" y1="100.5" x2="394.6" y2="100.5"/><line x1="525.7" y1="100.5" x2="524.4" y2="100.5"/><line x1="393.3" y1="87.74" x2="394.6" y2="87.74"/><line x1="525.7" y1="87.74" x2="524.4" y2="87.74"/><line x1="393.3" y1="74.99" x2="394.6" y2="74.99"/><line x1="525.7" y1="74.99" x2="524.4" y2="74.99"/><line x1="393.3" y1="62.23" x2="394.6" y2="62.23"/><line x1="525.7" y1="62.23" x2="524.4" y2="62.23"/><line x1="393.3" y1="49.47" x2="394.6" y2="49.47"/><line x1="525.7" y1="49.47" x2="524.4" y2="49.47"/><line x1="393.3" y1="36.71" x2="394.6" y2="36.71"/><line x1="525.7" y1="36.71" x2="524.4" y2="36.71"/><line x1="393.3" y1="23.96" x2="394.6" y2="23.96"/><line x1="525.7" y1="23.96" x2="524.4" y2="23.96"/><line x1="393.3" y1="11.2" x2="394.6" y2="11.2"/><line x1="525.7" y1="11.2" x2="524.4" y2="11.2"/></g>
<rect x="393.3" y="11.2" width="132.4" height="89.7" fill="none" stroke="#a6a6a6" stroke-width="0.8"/>
<polyline fill="none" stroke="#000000" stroke-width="1.2" stroke-linejoin="round" points="393.3,60.4 400.27,95.8 407.24,96.2 414.21,96.21 421.17,96.22 428.14,96.24 435.11,96.25 442.08,96.26 449.05,96.27 456.02,96.28 462.98,96.29 469.95,96.31 476.92,96.32 483.89,96.33 490.86,96.34 497.83,96.35 504.79,96.36 511.76,96.38 518.73,96.39 525.7,96.4"/>
<polyline fill="none" stroke="#808026" stroke-width="1.2" stroke-linejoin="round" points="393.3,28.9 400.27,93 407.24,93.02 414.21,93.04 421.17,93.07 428.14,93.09 435.11,93.11 442.08,93.13 449.05,93.16 456.02,93.18 462.98,93.2 469.95,93.22 476.92,93.24 483.89,93.27 490.86,93.29 497.83,93.31 504.79,93.33 511.76,93.36 518.73,93.38 525.7,93.4"/>
<polyline fill="none" stroke="#14cc5a" stroke-width="1.2" stroke-linejoin="round" points="393.3,22.6 400.27,91 407.24,92.8 414.21,92.84 421.17,92.87 428.14,92.91 435.11,92.94 442.08,92.98 449.05,93.01 456.02,93.05 462.98,93.08 469.95,93.12 476.92,93.15 483.89,93.19 490.86,93.22 497.83,93.26 504.79,93.29 511.76,93.33 518.73,93.36 525.7,93.4"/>
<polyline fill="none" stroke="#6464c0" stroke-width="1.2" stroke-linejoin="round" points="393.3,22.6 400.27,89.5 407.24,92.6 414.21,92.65 421.17,92.69 428.14,92.74 435.11,92.79 442.08,92.84 449.05,92.88 456.02,92.93 462.98,92.98 469.95,93.02 476.92,93.07 483.89,93.12 490.86,93.16 497.83,93.21 504.79,93.26 511.76,93.31 518.73,93.35 525.7,93.4"/>
<polyline fill="none" stroke="#b4b4b4" stroke-width="1.2" stroke-linejoin="round" points="393.3,22.6 400.27,93.3 407.24,93.31 414.21,93.32 421.17,93.33 428.14,93.34 435.11,93.36 442.08,93.37 449.05,93.38 456.02,93.39 462.98,93.4 469.95,93.41 476.92,93.42 483.89,93.43 490.86,93.44 497.83,93.46 504.79,93.47 511.76,93.48 518.73,93.49 525.7,93.5"/>
<polyline fill="none" stroke="#ff1a1a" stroke-width="1.2" stroke-linejoin="round" points="393.3,23.5 400.27,75.7 407.24,87.2 414.21,91.8 421.17,92.8 428.14,92.83 435.11,92.87 442.08,92.9 449.05,92.93 456.02,92.97 462.98,93 469.95,93.03 476.92,93.07 483.89,93.1 490.86,93.13 497.83,93.17 504.79,93.2 511.76,93.23 518.73,93.27 525.7,93.3"/>
<polyline fill="none" stroke="#e6195c" stroke-width="1.2" stroke-linejoin="round" points="393.3,23.5 400.27,69.6 407.24,79.5 414.21,89.5 421.17,92.5 428.14,92.55 435.11,92.61 442.08,92.66 449.05,92.71 456.02,92.77 462.98,92.82 469.95,92.87 476.92,92.93 483.89,92.98 490.86,93.03 497.83,93.09 504.79,93.14 511.76,93.19 518.73,93.25 525.7,93.3"/>
<polyline fill="none" stroke="#f0289c" stroke-width="1.2" stroke-linejoin="round" points="393.3,47.8 400.27,86.4 407.24,91 414.21,92.6 421.17,92.64 428.14,92.69 435.11,92.73 442.08,92.77 449.05,92.82 456.02,92.86 462.98,92.91 469.95,92.95 476.92,92.99 483.89,93.04 490.86,93.08 497.83,93.12 504.79,93.17 511.76,93.21 518.73,93.26 525.7,93.3"/>
<path d="M391.45 59.5L395.15 59.5L393.3 63.1Z" fill="#000000"/><path d="M398.42 94.9L402.12 94.9L400.27 98.5Z" fill="#000000"/><path d="M405.39 95.3L409.09 95.3L407.24 98.9Z" fill="#000000"/><path d="M412.36 95.31L416.06 95.31L414.21 98.91Z" fill="#000000"/><path d="M419.32 95.32L423.02 95.32L421.17 98.92Z" fill="#000000"/><path d="M426.29 95.34L429.99 95.34L428.14 98.94Z" fill="#000000"/><path d="M433.26 95.35L436.96 95.35L435.11 98.95Z" fill="#000000"/><path d="M440.23 95.36L443.93 95.36L442.08 98.96Z" fill="#000000"/><path d="M447.2 95.37L450.9 95.37L449.05 98.97Z" fill="#000000"/><path d="M454.17 95.38L457.87 95.38L456.02 98.98Z" fill="#000000"/><path d="M461.13 95.39L464.83 95.39L462.98 98.99Z" fill="#000000"/><path d="M468.1 95.41L471.8 95.41L469.95 99.01Z" fill="#000000"/><path d="M475.07 95.42L478.77 95.42L476.92 99.02Z" fill="#000000"/><path d="M482.04 95.43L485.74 95.43L483.89 99.03Z" fill="#000000"/><path d="M489.01 95.44L492.71 95.44L490.86 99.04Z" fill="#000000"/><path d="M495.98 95.45L499.68 95.45L497.83 99.05Z" fill="#000000"/><path d="M502.94 95.46L506.64 95.46L504.79 99.06Z" fill="#000000"/><path d="M509.91 95.48L513.61 95.48L511.76 99.08Z" fill="#000000"/><path d="M516.88 95.49L520.58 95.49L518.73 99.09Z" fill="#000000"/><path d="M523.85 95.5L527.55 95.5L525.7 99.1Z" fill="#000000"/>
<circle cx="393.3" cy="23.5" r="1.8" fill="#ff1a1a"/><circle cx="400.27" cy="75.7" r="1.8" fill="#ff1a1a"/><circle cx="407.24" cy="87.2" r="1.8" fill="#ff1a1a"/><circle cx="414.21" cy="91.8" r="1.8" fill="#ff1a1a"/><circle cx="421.17" cy="92.8" r="1.8" fill="#ff1a1a"/><circle cx="428.14" cy="92.83" r="1.8" fill="#ff1a1a"/><circle cx="435.11" cy="92.87" r="1.8" fill="#ff1a1a"/><circle cx="442.08" cy="92.9" r="1.8" fill="#ff1a1a"/><circle cx="449.05" cy="92.93" r="1.8" fill="#ff1a1a"/><circle cx="456.02" cy="92.97" r="1.8" fill="#ff1a1a"/><circle cx="462.98" cy="93" r="1.8" fill="#ff1a1a"/><circle cx="469.95" cy="93.03" r="1.8" fill="#ff1a1a"/><circle cx="476.92" cy="93.07" r="1.8" fill="#ff1a1a"/><circle cx="483.89" cy="93.1" r="1.8" fill="#ff1a1a"/><circle cx="490.86" cy="93.13" r="1.8" fill="#ff1a1a"/><circle cx="497.83" cy="93.17" r="1.8" fill="#ff1a1a"/><circle cx="504.79" cy="93.2" r="1.8" fill="#ff1a1a"/><circle cx="511.76" cy="93.23" r="1.8" fill="#ff1a1a"/><circle cx="518.73" cy="93.27" r="1.8" fill="#ff1a1a"/><circle cx="525.7" cy="93.3" r="1.8" fill="#ff1a1a"/>
<path d="M391.4 30.2L395.2 30.2L393.3 26.7Z" fill="#808026"/><path d="M398.37 94.3L402.17 94.3L400.27 90.8Z" fill="#808026"/><path d="M405.34 94.32L409.14 94.32L407.24 90.82Z" fill="#808026"/><path d="M412.31 94.34L416.11 94.34L414.21 90.84Z" fill="#808026"/><path d="M419.27 94.37L423.07 94.37L421.17 90.87Z" fill="#808026"/><path d="M426.24 94.39L430.04 94.39L428.14 90.89Z" fill="#808026"/><path d="M433.21 94.41L437.01 94.41L435.11 90.91Z" fill="#808026"/><path d="M440.18 94.43L443.98 94.43L442.08 90.93Z" fill="#808026"/><path d="M447.15 94.46L450.95 94.46L449.05 90.96Z" fill="#808026"/><path d="M454.12 94.48L457.92 94.48L456.02 90.98Z" fill="#808026"/><path d="M461.08 94.5L464.88 94.5L462.98 91Z" fill="#808026"/><path d="M468.05 94.52L471.85 94.52L469.95 91.02Z" fill="#808026"/><path d="M475.02 94.54L478.82 94.54L476.92 91.04Z" fill="#808026"/><path d="M481.99 94.57L485.79 94.57L483.89 91.07Z" fill="#808026"/><path d="M488.96 94.59L492.76 94.59L490.86 91.09Z" fill="#808026"/><path d="M495.93 94.61L499.73 94.61L497.83 91.11Z" fill="#808026"/><path d="M502.89 94.63L506.69 94.63L504.79 91.13Z" fill="#808026"/><path d="M509.86 94.66L513.66 94.66L511.76 91.16Z" fill="#808026"/><path d="M516.83 94.68L520.63 94.68L518.73 91.18Z" fill="#808026"/><path d="M523.8 94.7L527.6 94.7L525.7 91.2Z" fill="#808026"/>
<circle cx="393.3" cy="47.8" r="1.8" fill="#f0289c"/><circle cx="400.27" cy="86.4" r="1.8" fill="#f0289c"/><circle cx="407.24" cy="91" r="1.8" fill="#f0289c"/><circle cx="414.21" cy="92.6" r="1.8" fill="#f0289c"/><circle cx="421.17" cy="92.64" r="1.8" fill="#f0289c"/><circle cx="428.14" cy="92.69" r="1.8" fill="#f0289c"/><circle cx="435.11" cy="92.73" r="1.8" fill="#f0289c"/><circle cx="442.08" cy="92.77" r="1.8" fill="#f0289c"/><circle cx="449.05" cy="92.82" r="1.8" fill="#f0289c"/><circle cx="456.02" cy="92.86" r="1.8" fill="#f0289c"/><circle cx="462.98" cy="92.91" r="1.8" fill="#f0289c"/><circle cx="469.95" cy="92.95" r="1.8" fill="#f0289c"/><circle cx="476.92" cy="92.99" r="1.8" fill="#f0289c"/><circle cx="483.89" cy="93.04" r="1.8" fill="#f0289c"/><circle cx="490.86" cy="93.08" r="1.8" fill="#f0289c"/><circle cx="497.83" cy="93.12" r="1.8" fill="#f0289c"/><circle cx="504.79" cy="93.17" r="1.8" fill="#f0289c"/><circle cx="511.76" cy="93.21" r="1.8" fill="#f0289c"/><circle cx="518.73" cy="93.26" r="1.8" fill="#f0289c"/><circle cx="525.7" cy="93.3" r="1.8" fill="#f0289c"/>
<circle cx="393.3" cy="22.6" r="1.8" fill="#14cc5a"/><circle cx="400.27" cy="91" r="1.8" fill="#14cc5a"/><circle cx="407.24" cy="92.8" r="1.8" fill="#14cc5a"/><circle cx="414.21" cy="92.84" r="1.8" fill="#14cc5a"/><circle cx="421.17" cy="92.87" r="1.8" fill="#14cc5a"/><circle cx="428.14" cy="92.91" r="1.8" fill="#14cc5a"/><circle cx="435.11" cy="92.94" r="1.8" fill="#14cc5a"/><circle cx="442.08" cy="92.98" r="1.8" fill="#14cc5a"/><circle cx="449.05" cy="93.01" r="1.8" fill="#14cc5a"/><circle cx="456.02" cy="93.05" r="1.8" fill="#14cc5a"/><circle cx="462.98" cy="93.08" r="1.8" fill="#14cc5a"/><circle cx="469.95" cy="93.12" r="1.8" fill="#14cc5a"/><circle cx="476.92" cy="93.15" r="1.8" fill="#14cc5a"/><circle cx="483.89" cy="93.19" r="1.8" fill="#14cc5a"/><circle cx="490.86" cy="93.22" r="1.8" fill="#14cc5a"/><circle cx="497.83" cy="93.26" r="1.8" fill="#14cc5a"/><circle cx="504.79" cy="93.29" r="1.8" fill="#14cc5a"/><circle cx="511.76" cy="93.33" r="1.8" fill="#14cc5a"/><circle cx="518.73" cy="93.36" r="1.8" fill="#14cc5a"/><circle cx="525.7" cy="93.4" r="1.8" fill="#14cc5a"/>
<circle cx="393.3" cy="23.5" r="1.8" fill="#e6195c"/><circle cx="400.27" cy="69.6" r="1.8" fill="#e6195c"/><circle cx="407.24" cy="79.5" r="1.8" fill="#e6195c"/><circle cx="414.21" cy="89.5" r="1.8" fill="#e6195c"/><circle cx="421.17" cy="92.5" r="1.8" fill="#e6195c"/><circle cx="428.14" cy="92.55" r="1.8" fill="#e6195c"/><circle cx="435.11" cy="92.61" r="1.8" fill="#e6195c"/><circle cx="442.08" cy="92.66" r="1.8" fill="#e6195c"/><circle cx="449.05" cy="92.71" r="1.8" fill="#e6195c"/><circle cx="456.02" cy="92.77" r="1.8" fill="#e6195c"/><circle cx="462.98" cy="92.82" r="1.8" fill="#e6195c"/><circle cx="469.95" cy="92.87" r="1.8" fill="#e6195c"/><circle cx="476.92" cy="92.93" r="1.8" fill="#e6195c"/><circle cx="483.89" cy="92.98" r="1.8" fill="#e6195c"/><circle cx="490.86" cy="93.03" r="1.8" fill="#e6195c"/><circle cx="497.83" cy="93.09" r="1.8" fill="#e6195c"/><circle cx="504.79" cy="93.14" r="1.8" fill="#e6195c"/><circle cx="511.76" cy="93.19" r="1.8" fill="#e6195c"/><circle cx="518.73" cy="93.25" r="1.8" fill="#e6195c"/><circle cx="525.7" cy="93.3" r="1.8" fill="#e6195c"/>
<path d="M391.4 23.9L395.2 23.9L393.3 20.4Z" fill="#6464c0"/><path d="M398.37 90.8L402.17 90.8L400.27 87.3Z" fill="#6464c0"/><path d="M405.34 93.9L409.14 93.9L407.24 90.4Z" fill="#6464c0"/><path d="M412.31 93.95L416.11 93.95L414.21 90.45Z" fill="#6464c0"/><path d="M419.27 93.99L423.07 93.99L421.17 90.49Z" fill="#6464c0"/><path d="M426.24 94.04L430.04 94.04L428.14 90.54Z" fill="#6464c0"/><path d="M433.21 94.09L437.01 94.09L435.11 90.59Z" fill="#6464c0"/><path d="M440.18 94.14L443.98 94.14L442.08 90.64Z" fill="#6464c0"/><path d="M447.15 94.18L450.95 94.18L449.05 90.68Z" fill="#6464c0"/><path d="M454.12 94.23L457.92 94.23L456.02 90.73Z" fill="#6464c0"/><path d="M461.08 94.28L464.88 94.28L462.98 90.78Z" fill="#6464c0"/><path d="M468.05 94.32L471.85 94.32L469.95 90.82Z" fill="#6464c0"/><path d="M475.02 94.37L478.82 94.37L476.92 90.87Z" fill="#6464c0"/><path d="M481.99 94.42L485.79 94.42L483.89 90.92Z" fill="#6464c0"/><path d="M488.96 94.46L492.76 94.46L490.86 90.96Z" fill="#6464c0"/><path d="M495.93 94.51L499.73 94.51L497.83 91.01Z" fill="#6464c0"/><path d="M502.89 94.56L506.69 94.56L504.79 91.06Z" fill="#6464c0"/><path d="M509.86 94.61L513.66 94.61L511.76 91.11Z" fill="#6464c0"/><path d="M516.83 94.65L520.63 94.65L518.73 91.15Z" fill="#6464c0"/><path d="M523.8 94.7L527.6 94.7L525.7 91.2Z" fill="#6464c0"/>
<circle cx="393.3" cy="22.6" r="1.9" fill="#b4b4b4"/><circle cx="400.27" cy="93.3" r="1.9" fill="#b4b4b4"/><circle cx="407.24" cy="93.31" r="1.9" fill="#b4b4b4"/><circle cx="414.21" cy="93.32" r="1.9" fill="#b4b4b4"/><circle cx="421.17" cy="93.33" r="1.9" fill="#b4b4b4"/><circle cx="428.14" cy="93.34" r="1.9" fill="#b4b4b4"/><circle cx="435.11" cy="93.36" r="1.9" fill="#b4b4b4"/><circle cx="442.08" cy="93.37" r="1.9" fill="#b4b4b4"/><circle cx="449.05" cy="93.38" r="1.9" fill="#b4b4b4"/><circle cx="456.02" cy="93.39" r="1.9" fill="#b4b4b4"/><circle cx="462.98" cy="93.4" r="1.9" fill="#b4b4b4"/><circle cx="469.95" cy="93.41" r="1.9" fill="#b4b4b4"/><circle cx="476.92" cy="93.42" r="1.9" fill="#b4b4b4"/><circle cx="483.89" cy="93.43" r="1.9" fill="#b4b4b4"/><circle cx="490.86" cy="93.44" r="1.9" fill="#b4b4b4"/><circle cx="497.83" cy="93.46" r="1.9" fill="#b4b4b4"/><circle cx="504.79" cy="93.47" r="1.9" fill="#b4b4b4"/><circle cx="511.76" cy="93.48" r="1.9" fill="#b4b4b4"/><circle cx="518.73" cy="93.49" r="1.9" fill="#b4b4b4"/><circle cx="525.7" cy="93.5" r="1.9" fill="#b4b4b4"/>
<g fill="#333" stroke="#333" stroke-width="0.15"><text transform="translate(391.7 102.5) scale(1 1.12)" text-anchor="end" font-size="5.2">2500</text><text transform="translate(391.7 89.74) scale(1 1.12)" text-anchor="end" font-size="5.2">2600</text><text transform="translate(391.7 76.99) scale(1 1.12)" text-anchor="end" font-size="5.2">2700</text><text transform="translate(391.7 64.23) scale(1 1.12)" text-anchor="end" font-size="5.2">2800</text><text transform="translate(391.7 51.47) scale(1 1.12)" text-anchor="end" font-size="5.2">2900</text><text transform="translate(391.7 38.71) scale(1 1.12)" text-anchor="end" font-size="5.2">3000</text><text transform="translate(391.7 25.96) scale(1 1.12)" text-anchor="end" font-size="5.2">3100</text><text transform="translate(391.7 13.2) scale(1 1.12)" text-anchor="end" font-size="5.2">3200</text><text transform="translate(393.3 107.5) scale(1 1.12)" text-anchor="middle" font-size="5.2">0</text><text transform="translate(419.78 107.5) scale(1 1.12)" text-anchor="middle" font-size="5.2">200</text><text transform="translate(446.26 107.5) scale(1 1.12)" text-anchor="middle" font-size="5.2">400</text><text transform="translate(472.74 107.5) scale(1 1.12)" text-anchor="middle" font-size="5.2">600</text><text transform="translate(499.22 107.5) scale(1 1.12)" text-anchor="middle" font-size="5.2">800</text><text transform="translate(525.7 107.5) scale(1 1.12)" text-anchor="middle" font-size="5.2">1000</text><text transform="translate(459.5 114.7) scale(1 1.12)" text-anchor="middle" font-size="5.6">Iterations</text><text transform="translate(378 56.05) rotate(-90) scale(1 1.12)" text-anchor="middle" font-size="5.8">Average Fitness</text></g>
<g fill="#222" stroke="#222" stroke-width="0.16"><text transform="translate(459.5 9.8) scale(1 1.12)" text-anchor="middle" font-size="5.9">CEC2022 F9 Dim=10</text></g>
<g stroke="#f3f3f3" stroke-width="0.5"><line x1="29.3" y1="198.97" x2="161.7" y2="198.97"/><line x1="29.3" y1="181.38" x2="161.7" y2="181.38"/><line x1="29.3" y1="164.96" x2="161.7" y2="164.96"/><line x1="29.3" y1="149.57" x2="161.7" y2="149.57"/><line x1="29.3" y1="135.08" x2="161.7" y2="135.08"/></g>
<g stroke="#e4e4e4" stroke-width="0.6"><line x1="55.78" y1="126.2" x2="55.78" y2="215.9"/><line x1="82.26" y1="126.2" x2="82.26" y2="215.9"/><line x1="108.74" y1="126.2" x2="108.74" y2="215.9"/><line x1="135.22" y1="126.2" x2="135.22" y2="215.9"/><line x1="29.3" y1="128.2" x2="161.7" y2="128.2"/><line x1="29.3" y1="142.4" x2="161.7" y2="142.4"/><line x1="29.3" y1="156.7" x2="161.7" y2="156.7"/><line x1="29.3" y1="172.9" x2="161.7" y2="172.9"/><line x1="29.3" y1="190.4" x2="161.7" y2="190.4"/><line x1="29.3" y1="208.3" x2="161.7" y2="208.3"/></g>
<g stroke="#a0a0a0" stroke-width="0.6"><line x1="29.3" y1="215.9" x2="29.3" y2="214.6"/><line x1="29.3" y1="126.2" x2="29.3" y2="127.5"/><line x1="55.78" y1="215.9" x2="55.78" y2="214.6"/><line x1="55.78" y1="126.2" x2="55.78" y2="127.5"/><line x1="82.26" y1="215.9" x2="82.26" y2="214.6"/><line x1="82.26" y1="126.2" x2="82.26" y2="127.5"/><line x1="108.74" y1="215.9" x2="108.74" y2="214.6"/><line x1="108.74" y1="126.2" x2="108.74" y2="127.5"/><line x1="135.22" y1="215.9" x2="135.22" y2="214.6"/><line x1="135.22" y1="126.2" x2="135.22" y2="127.5"/><line x1="161.7" y1="215.9" x2="161.7" y2="214.6"/><line x1="161.7" y1="126.2" x2="161.7" y2="127.5"/><line x1="29.3" y1="128.2" x2="30.6" y2="128.2"/><line x1="161.7" y1="128.2" x2="160.4" y2="128.2"/><line x1="29.3" y1="142.4" x2="30.6" y2="142.4"/><line x1="161.7" y1="142.4" x2="160.4" y2="142.4"/><line x1="29.3" y1="156.7" x2="30.6" y2="156.7"/><line x1="161.7" y1="156.7" x2="160.4" y2="156.7"/><line x1="29.3" y1="172.9" x2="30.6" y2="172.9"/><line x1="161.7" y1="172.9" x2="160.4" y2="172.9"/><line x1="29.3" y1="190.4" x2="30.6" y2="190.4"/><line x1="161.7" y1="190.4" x2="160.4" y2="190.4"/><line x1="29.3" y1="208.3" x2="30.6" y2="208.3"/><line x1="161.7" y1="208.3" x2="160.4" y2="208.3"/></g>
<rect x="29.3" y="126.2" width="132.4" height="89.7" fill="none" stroke="#a6a6a6" stroke-width="0.8"/>
<polyline fill="none" stroke="#000000" stroke-width="1.2" stroke-linejoin="round" points="29.3,193 36.27,211.5 43.24,212 50.21,212.03 57.17,212.06 64.14,212.09 71.11,212.12 78.08,212.15 85.05,212.18 92.02,212.21 98.98,212.24 105.95,212.26 112.92,212.29 119.89,212.32 126.86,212.35 133.83,212.38 140.79,212.41 147.76,212.44 154.73,212.47 161.7,212.5"/>
<polyline fill="none" stroke="#ff1a1a" stroke-width="1.2" stroke-linejoin="round" points="29.3,126.5 36.27,212 43.24,213.3 50.21,213.38 57.17,213.47 64.14,213.55 71.11,213.63 78.08,213.72 85.05,213.8 92.02,213.82 98.98,213.84 105.95,213.85 112.92,213.87 119.89,213.89 126.86,213.91 133.83,213.93 140.79,213.95 147.76,213.96 154.73,213.98 161.7,214"/>
<polyline fill="none" stroke="#e6195c" stroke-width="1.2" stroke-linejoin="round" points="29.3,126.5 36.27,215.3 43.24,215.3 50.21,215.3 57.17,215.3 64.14,215.3 71.11,215.3 78.08,215.3 85.05,215.3 92.02,215.3 98.98,215.3 105.95,215.3 112.92,215.3 119.89,215.3 126.86,215.3 133.83,215.3 140.79,215.3 147.76,215.3 154.73,215.3 161.7,215.3"/>
<polyline fill="none" stroke="#14cc5a" stroke-width="1.2" stroke-linejoin="round" points="29.3,126.5 36.27,211.2 43.24,211.6 50.21,211.64 57.17,211.67 64.14,211.71 71.11,211.74 78.08,211.78 85.05,211.81 92.02,211.85 98.98,211.88 105.95,211.92 112.92,211.95 119.89,211.99 126.86,212.02 133.83,212.06 140.79,212.09 147.76,212.13 154.73,212.16 161.7,212.2"/>
<polyline fill="none" stroke="#f0289c" stroke-width="1.2" stroke-linejoin="round" points="29.3,166.8 36.27,207.5 43.24,211.5 50.21,212.25 57.17,213 64.14,213.03 71.11,213.07 78.08,213.1 85.05,213.13 92.02,213.17 98.98,213.2 105.95,213.23 112.92,213.27 119.89,213.3 126.86,213.33 133.83,213.37 140.79,213.4 147.76,213.43 154.73,213.47 161.7,213.5"/>
<polyline fill="none" stroke="#808026" stroke-width="1.2" stroke-linejoin="round" points="29.3,147 36.27,212 43.24,212.5 50.21,212.52 57.17,212.54 64.14,212.55 71.11,212.57 78.08,212.59 85.05,212.61 92.02,212.62 98.98,212.64 105.95,212.66 112.92,212.68 119.89,212.69 126.86,212.71 133.83,212.73 140.79,212.75 147.76,212.76 154.73,212.78 161.7,212.8"/>
<polyline fill="none" stroke="#6464c0" stroke-width="1.2" stroke-linejoin="round" points="29.3,126.5 36.27,205 43.24,207.2 50.21,208 57.17,208.8 64.14,209.18 71.11,209.55 78.08,209.93 85.05,210.3 92.02,210.39 98.98,210.48 105.95,210.57 112.92,210.66 119.89,210.75 126.86,210.85 133.83,210.94 140.79,211.03 147.76,211.12 154.73,211.21 161.7,211.3"/>
<polyline fill="none" stroke="#b4b4b4" stroke-width="1.2" stroke-linejoin="round" points="29.3,126.5 36.27,203.2 43.24,206.1 50.21,207.6 57.17,208.4 64.14,208.8 71.11,209.2 78.08,209.32 85.05,209.44 92.02,209.56 98.98,209.68 105.95,209.8 112.92,209.9 119.89,210 126.86,210.1 133.83,210.2 140.79,210.3 147.76,210.4 154.73,210.5 161.7,210.6"/>
<path d="M27.45 192.1L31.15 192.1L29.3 195.7Z" fill="#000000"/><path d="M34.42 210.6L38.12 210.6L36.27 214.2Z" fill="#000000"/><path d="M41.39 211.1L45.09 211.1L43.24 214.7Z" fill="#000000"/><path d="M48.36 211.13L52.06 211.13L50.21 214.73Z" fill="#000000"/><path d="M55.32 211.16L59.02 211.16L57.17 214.76Z" fill="#000000"/><path d="M62.29 211.19L65.99 211.19L64.14 214.79Z" fill="#000000"/><path d="M69.26 211.22L72.96 211.22L71.11 214.82Z" fill="#000000"/><path d="M76.23 211.25L79.93 211.25L78.08 214.85Z" fill="#000000"/><path d="M83.2 211.28L86.9 211.28L85.05 214.88Z" fill="#000000"/><path d="M90.17 211.31L93.87 211.31L92.02 214.91Z" fill="#000000"/><path d="M97.13 211.34L100.83 211.34L98.98 214.94Z" fill="#000000"/><path d="M104.1 211.36L107.8 211.36L105.95 214.96Z" fill="#000000"/><path d="M111.07 211.39L114.77 211.39L112.92 214.99Z" fill="#000000"/><path d="M118.04 211.42L121.74 211.42L119.89 215.02Z" fill="#000000"/><path d="M125.01 211.45L128.71 211.45L126.86 215.05Z" fill="#000000"/><path d="M131.98 211.48L135.68 211.48L133.83 215.08Z" fill="#000000"/><path d="M138.94 211.51L142.64 211.51L140.79 215.11Z" fill="#000000"/><path d="M145.91 211.54L149.61 211.54L147.76 215.14Z" fill="#000000"/><path d="M152.88 211.57L156.58 211.57L154.73 215.17Z" fill="#000000"/><path d="M159.85 211.6L163.55 211.6L161.7 215.2Z" fill="#000000"/>
<circle cx="29.3" cy="126.5" r="1.8" fill="#ff1a1a"/><circle cx="36.27" cy="212" r="1.8" fill="#ff1a1a"/><circle cx="43.24" cy="213.3" r="1.8" fill="#ff1a1a"/><circle cx="50.21" cy="213.38" r="1.8" fill="#ff1a1a"/><circle cx="57.17" cy="213.47" r="1.8" fill="#ff1a1a"/><circle cx="64.14" cy="213.55" r="1.8" fill="#ff1a1a"/><circle cx="71.11" cy="213.63" r="1.8" fill="#ff1a1a"/><circle cx="78.08" cy="213.72" r="1.8" fill="#ff1a1a"/><circle cx="85.05" cy="213.8" r="1.8" fill="#ff1a1a"/><circle cx="92.02" cy="213.82" r="1.8" fill="#ff1a1a"/><circle cx="98.98" cy="213.84" r="1.8" fill="#ff1a1a"/><circle cx="105.95" cy="213.85" r="1.8" fill="#ff1a1a"/><circle cx="112.92" cy="213.87" r="1.8" fill="#ff1a1a"/><circle cx="119.89" cy="213.89" r="1.8" fill="#ff1a1a"/><circle cx="126.86" cy="213.91" r="1.8" fill="#ff1a1a"/><circle cx="133.83" cy="213.93" r="1.8" fill="#ff1a1a"/><circle cx="140.79" cy="213.95" r="1.8" fill="#ff1a1a"/><circle cx="147.76" cy="213.96" r="1.8" fill="#ff1a1a"/><circle cx="154.73" cy="213.98" r="1.8" fill="#ff1a1a"/><circle cx="161.7" cy="214" r="1.8" fill="#ff1a1a"/>
<path d="M27.4 148.3L31.2 148.3L29.3 144.8Z" fill="#808026"/><path d="M34.37 213.3L38.17 213.3L36.27 209.8Z" fill="#808026"/><path d="M41.34 213.8L45.14 213.8L43.24 210.3Z" fill="#808026"/><path d="M48.31 213.82L52.11 213.82L50.21 210.32Z" fill="#808026"/><path d="M55.27 213.84L59.07 213.84L57.17 210.34Z" fill="#808026"/><path d="M62.24 213.85L66.04 213.85L64.14 210.35Z" fill="#808026"/><path d="M69.21 213.87L73.01 213.87L71.11 210.37Z" fill="#808026"/><path d="M76.18 213.89L79.98 213.89L78.08 210.39Z" fill="#808026"/><path d="M83.15 213.91L86.95 213.91L85.05 210.41Z" fill="#808026"/><path d="M90.12 213.92L93.92 213.92L92.02 210.42Z" fill="#808026"/><path d="M97.08 213.94L100.88 213.94L98.98 210.44Z" fill="#808026"/><path d="M104.05 213.96L107.85 213.96L105.95 210.46Z" fill="#808026"/><path d="M111.02 213.98L114.82 213.98L112.92 210.48Z" fill="#808026"/><path d="M117.99 213.99L121.79 213.99L119.89 210.49Z" fill="#808026"/><path d="M124.96 214.01L128.76 214.01L126.86 210.51Z" fill="#808026"/><path d="M131.93 214.03L135.73 214.03L133.83 210.53Z" fill="#808026"/><path d="M138.89 214.05L142.69 214.05L140.79 210.55Z" fill="#808026"/><path d="M145.86 214.06L149.66 214.06L147.76 210.56Z" fill="#808026"/><path d="M152.83 214.08L156.63 214.08L154.73 210.58Z" fill="#808026"/><path d="M159.8 214.1L163.6 214.1L161.7 210.6Z" fill="#808026"/>
<circle cx="29.3" cy="166.8" r="1.8" fill="#f0289c"/><circle cx="36.27" cy="207.5" r="1.8" fill="#f0289c"/><circle cx="43.24" cy="211.5" r="1.8" fill="#f0289c"/><circle cx="50.21" cy="212.25" r="1.8" fill="#f0289c"/><circle cx="57.17" cy="213" r="1.8" fill="#f0289c"/><circle cx="64.14" cy="213.03" r="1.8" fill="#f0289c"/><circle cx="71.11" cy="213.07" r="1.8" fill="#f0289c"/><circle cx="78.08" cy="213.1" r="1.8" fill="#f0289c"/><circle cx="85.05" cy="213.13" r="1.8" fill="#f0289c"/><circle cx="92.02" cy="213.17" r="1.8" fill="#f0289c"/><circle cx="98.98" cy="213.2" r="1.8" fill="#f0289c"/><circle cx="105.95" cy="213.23" r="1.8" fill="#f0289c"/><circle cx="112.92" cy="213.27" r="1.8" fill="#f0289c"/><circle cx="119.89" cy="213.3" r="1.8" fill="#f0289c"/><circle cx="126.86" cy="213.33" r="1.8" fill="#f0289c"/><circle cx="133.83" cy="213.37" r="1.8" fill="#f0289c"/><circle cx="140.79" cy="213.4" r="1.8" fill="#f0289c"/><circle cx="147.76" cy="213.43" r="1.8" fill="#f0289c"/><circle cx="154.73" cy="213.47" r="1.8" fill="#f0289c"/><circle cx="161.7" cy="213.5" r="1.8" fill="#f0289c"/>
<circle cx="29.3" cy="126.5" r="1.8" fill="#14cc5a"/><circle cx="36.27" cy="211.2" r="1.8" fill="#14cc5a"/><circle cx="43.24" cy="211.6" r="1.8" fill="#14cc5a"/><circle cx="50.21" cy="211.64" r="1.8" fill="#14cc5a"/><circle cx="57.17" cy="211.67" r="1.8" fill="#14cc5a"/><circle cx="64.14" cy="211.71" r="1.8" fill="#14cc5a"/><circle cx="71.11" cy="211.74" r="1.8" fill="#14cc5a"/><circle cx="78.08" cy="211.78" r="1.8" fill="#14cc5a"/><circle cx="85.05" cy="211.81" r="1.8" fill="#14cc5a"/><circle cx="92.02" cy="211.85" r="1.8" fill="#14cc5a"/><circle cx="98.98" cy="211.88" r="1.8" fill="#14cc5a"/><circle cx="105.95" cy="211.92" r="1.8" fill="#14cc5a"/><circle cx="112.92" cy="211.95" r="1.8" fill="#14cc5a"/><circle cx="119.89" cy="211.99" r="1.8" fill="#14cc5a"/><circle cx="126.86" cy="212.02" r="1.8" fill="#14cc5a"/><circle cx="133.83" cy="212.06" r="1.8" fill="#14cc5a"/><circle cx="140.79" cy="212.09" r="1.8" fill="#14cc5a"/><circle cx="147.76" cy="212.13" r="1.8" fill="#14cc5a"/><circle cx="154.73" cy="212.16" r="1.8" fill="#14cc5a"/><circle cx="161.7" cy="212.2" r="1.8" fill="#14cc5a"/>
<circle cx="29.3" cy="126.5" r="1.8" fill="#e6195c"/><circle cx="36.27" cy="215.3" r="1.8" fill="#e6195c"/><circle cx="43.24" cy="215.3" r="1.8" fill="#e6195c"/><circle cx="50.21" cy="215.3" r="1.8" fill="#e6195c"/><circle cx="57.17" cy="215.3" r="1.8" fill="#e6195c"/><circle cx="64.14" cy="215.3" r="1.8" fill="#e6195c"/><circle cx="71.11" cy="215.3" r="1.8" fill="#e6195c"/><circle cx="78.08" cy="215.3" r="1.8" fill="#e6195c"/><circle cx="85.05" cy="215.3" r="1.8" fill="#e6195c"/><circle cx="92.02" cy="215.3" r="1.8" fill="#e6195c"/><circle cx="98.98" cy="215.3" r="1.8" fill="#e6195c"/><circle cx="105.95" cy="215.3" r="1.8" fill="#e6195c"/><circle cx="112.92" cy="215.3" r="1.8" fill="#e6195c"/><circle cx="119.89" cy="215.3" r="1.8" fill="#e6195c"/><circle cx="126.86" cy="215.3" r="1.8" fill="#e6195c"/><circle cx="133.83" cy="215.3" r="1.8" fill="#e6195c"/><circle cx="140.79" cy="215.3" r="1.8" fill="#e6195c"/><circle cx="147.76" cy="215.3" r="1.8" fill="#e6195c"/><circle cx="154.73" cy="215.3" r="1.8" fill="#e6195c"/><circle cx="161.7" cy="215.3" r="1.8" fill="#e6195c"/>
<path d="M27.4 127.8L31.2 127.8L29.3 124.3Z" fill="#6464c0"/><path d="M34.37 206.3L38.17 206.3L36.27 202.8Z" fill="#6464c0"/><path d="M41.34 208.5L45.14 208.5L43.24 205Z" fill="#6464c0"/><path d="M48.31 209.3L52.11 209.3L50.21 205.8Z" fill="#6464c0"/><path d="M55.27 210.1L59.07 210.1L57.17 206.6Z" fill="#6464c0"/><path d="M62.24 210.48L66.04 210.48L64.14 206.98Z" fill="#6464c0"/><path d="M69.21 210.85L73.01 210.85L71.11 207.35Z" fill="#6464c0"/><path d="M76.18 211.23L79.98 211.23L78.08 207.73Z" fill="#6464c0"/><path d="M83.15 211.6L86.95 211.6L85.05 208.1Z" fill="#6464c0"/><path d="M90.12 211.69L93.92 211.69L92.02 208.19Z" fill="#6464c0"/><path d="M97.08 211.78L100.88 211.78L98.98 208.28Z" fill="#6464c0"/><path d="M104.05 211.87L107.85 211.87L105.95 208.37Z" fill="#6464c0"/><path d="M111.02 211.96L114.82 211.96L112.92 208.46Z" fill="#6464c0"/><path d="M117.99 212.05L121.79 212.05L119.89 208.55Z" fill="#6464c0"/><path d="M124.96 212.15L128.76 212.15L126.86 208.65Z" fill="#6464c0"/><path d="M131.93 212.24L135.73 212.24L133.83 208.74Z" fill="#6464c0"/><path d="M138.89 212.33L142.69 212.33L140.79 208.83Z" fill="#6464c0"/><path d="M145.86 212.42L149.66 212.42L147.76 208.92Z" fill="#6464c0"/><path d="M152.83 212.51L156.63 212.51L154.73 209.01Z" fill="#6464c0"/><path d="M159.8 212.6L163.6 212.6L161.7 209.1Z" fill="#6464c0"/>
<circle cx="29.3" cy="126.5" r="1.9" fill="#b4b4b4"/><circle cx="36.27" cy="203.2" r="1.9" fill="#b4b4b4"/><circle cx="43.24" cy="206.1" r="1.9" fill="#b4b4b4"/><circle cx="50.21" cy="207.6" r="1.9" fill="#b4b4b4"/><circle cx="57.17" cy="208.4" r="1.9" fill="#b4b4b4"/><circle cx="64.14" cy="208.8" r="1.9" fill="#b4b4b4"/><circle cx="71.11" cy="209.2" r="1.9" fill="#b4b4b4"/><circle cx="78.08" cy="209.32" r="1.9" fill="#b4b4b4"/><circle cx="85.05" cy="209.44" r="1.9" fill="#b4b4b4"/><circle cx="92.02" cy="209.56" r="1.9" fill="#b4b4b4"/><circle cx="98.98" cy="209.68" r="1.9" fill="#b4b4b4"/><circle cx="105.95" cy="209.8" r="1.9" fill="#b4b4b4"/><circle cx="112.92" cy="209.9" r="1.9" fill="#b4b4b4"/><circle cx="119.89" cy="210" r="1.9" fill="#b4b4b4"/><circle cx="126.86" cy="210.1" r="1.9" fill="#b4b4b4"/><circle cx="133.83" cy="210.2" r="1.9" fill="#b4b4b4"/><circle cx="140.79" cy="210.3" r="1.9" fill="#b4b4b4"/><circle cx="147.76" cy="210.4" r="1.9" fill="#b4b4b4"/><circle cx="154.73" cy="210.5" r="1.9" fill="#b4b4b4"/><circle cx="161.7" cy="210.6" r="1.9" fill="#b4b4b4"/>
<g fill="#333" stroke="#333" stroke-width="0.15"><text transform="translate(27.7 130.2) scale(1 1.12)" text-anchor="end" font-size="5.2">3600</text><text transform="translate(27.7 144.4) scale(1 1.12)" text-anchor="end" font-size="5.2">3400</text><text transform="translate(27.7 158.7) scale(1 1.12)" text-anchor="end" font-size="5.2">3200</text><text transform="translate(27.7 174.9) scale(1 1.12)" text-anchor="end" font-size="5.2">3000</text><text transform="translate(27.7 192.4) scale(1 1.12)" text-anchor="end" font-size="5.2">2800</text><text transform="translate(27.7 210.3) scale(1 1.12)" text-anchor="end" font-size="5.2">2600</text><text transform="translate(29.3 222.5) scale(1 1.12)" text-anchor="middle" font-size="5.2">0</text><text transform="translate(55.78 222.5) scale(1 1.12)" text-anchor="middle" font-size="5.2">200</text><text transform="translate(82.26 222.5) scale(1 1.12)" text-anchor="middle" font-size="5.2">400</text><text transform="translate(108.74 222.5) scale(1 1.12)" text-anchor="middle" font-size="5.2">600</text><text transform="translate(135.22 222.5) scale(1 1.12)" text-anchor="middle" font-size="5.2">800</text><text transform="translate(161.7 222.5) scale(1 1.12)" text-anchor="middle" font-size="5.2">1000</text><text transform="translate(95.5 229.7) scale(1 1.12)" text-anchor="middle" font-size="5.6">Iterations</text><text transform="translate(14 171.05) rotate(-90) scale(1 1.12)" text-anchor="middle" font-size="5.8">Average Fitness</text></g>
<g fill="#222" stroke="#222" stroke-width="0.16"><text transform="translate(95.5 124.8) scale(1 1.12)" text-anchor="middle" font-size="5.9">CEC2022 F10 Dim=10</text></g>
<g stroke="#f3f3f3" stroke-width="0.5"><line x1="211.3" y1="213.97" x2="343.7" y2="213.97"/><line x1="211.3" y1="206.76" x2="343.7" y2="206.76"/><line x1="211.3" y1="201.17" x2="343.7" y2="201.17"/><line x1="211.3" y1="196.6" x2="343.7" y2="196.6"/><line x1="211.3" y1="192.74" x2="343.7" y2="192.74"/><line x1="211.3" y1="189.39" x2="343.7" y2="189.39"/><line x1="211.3" y1="186.44" x2="343.7" y2="186.44"/><line x1="211.3" y1="166.43" x2="343.7" y2="166.43"/><line x1="211.3" y1="156.27" x2="343.7" y2="156.27"/><line x1="211.3" y1="149.06" x2="343.7" y2="149.06"/><line x1="211.3" y1="143.47" x2="343.7" y2="143.47"/><line x1="211.3" y1="138.9" x2="343.7" y2="138.9"/><line x1="211.3" y1="135.04" x2="343.7" y2="135.04"/><line x1="211.3" y1="131.69" x2="343.7" y2="131.69"/><line x1="211.3" y1="128.74" x2="343.7" y2="128.74"/></g>
<g stroke="#e4e4e4" stroke-width="0.6"><line x1="237.78" y1="126.2" x2="237.78" y2="215.9"/><line x1="264.26" y1="126.2" x2="264.26" y2="215.9"/><line x1="290.74" y1="126.2" x2="290.74" y2="215.9"/><line x1="317.22" y1="126.2" x2="317.22" y2="215.9"/><line x1="211.3" y1="183.8" x2="343.7" y2="183.8"/></g>
<g stroke="#a0a0a0" stroke-width="0.6"><line x1="211.3" y1="215.9" x2="211.3" y2="214.6"/><line x1="211.3" y1="126.2" x2="211.3" y2="127.5"/><line x1="237.78" y1="215.9" x2="237.78" y2="214.6"/><line x1="237.78" y1="126.2" x2="237.78" y2="127.5"/><line x1="264.26" y1="215.9" x2="264.26" y2="214.6"/><line x1="264.26" y1="126.2" x2="264.26" y2="127.5"/><line x1="290.74" y1="215.9" x2="290.74" y2="214.6"/><line x1="290.74" y1="126.2" x2="290.74" y2="127.5"/><line x1="317.22" y1="215.9" x2="317.22" y2="214.6"/><line x1="317.22" y1="126.2" x2="317.22" y2="127.5"/><line x1="343.7" y1="215.9" x2="343.7" y2="214.6"/><line x1="343.7" y1="126.2" x2="343.7" y2="127.5"/><line x1="211.3" y1="126.1" x2="212.6" y2="126.1"/><line x1="343.7" y1="126.1" x2="342.4" y2="126.1"/><line x1="211.3" y1="183.8" x2="212.6" y2="183.8"/><line x1="343.7" y1="183.8" x2="342.4" y2="183.8"/></g>
<rect x="211.3" y="126.2" width="132.4" height="89.7" fill="none" stroke="#a6a6a6" stroke-width="0.8"/>
<polyline fill="none" stroke="#000000" stroke-width="1.2" stroke-linejoin="round" points="211.3,169 218.27,214.6 225.24,214.59 232.21,214.58 239.17,214.57 246.14,214.56 253.11,214.54 260.08,214.53 267.05,214.52 274.02,214.51 280.98,214.5 287.95,214.49 294.92,214.48 301.89,214.47 308.86,214.46 315.83,214.44 322.79,214.43 329.76,214.42 336.73,214.41 343.7,214.4"/>
<polyline fill="none" stroke="#ff1a1a" stroke-width="1.2" stroke-linejoin="round" points="211.3,135.6 218.27,199.4 225.24,199.4 232.21,202.8 239.17,211 246.14,212.8 253.11,214 260.08,214.05 267.05,214.09 274.02,214.14 280.98,214.18 287.95,214.23 294.92,214.28 301.89,214.32 308.86,214.37 315.83,214.42 322.79,214.46 329.76,214.51 336.73,214.55 343.7,214.6"/>
<polyline fill="none" stroke="#e6195c" stroke-width="1.2" stroke-linejoin="round" points="211.3,135.6 218.27,199.4 225.24,199.6 232.21,199.9 239.17,204.1 246.14,212.7 253.11,213.8 260.08,213.85 267.05,213.91 274.02,213.96 280.98,214.02 287.95,214.07 294.92,214.12 301.89,214.18 308.86,214.23 315.83,214.28 322.79,214.34 329.76,214.39 336.73,214.45 343.7,214.5"/>
<polyline fill="none" stroke="#14cc5a" stroke-width="1.2" stroke-linejoin="round" points="211.3,135.6 218.27,210.8 225.24,213.5 232.21,213.56 239.17,213.63 246.14,213.69 253.11,213.76 260.08,213.82 267.05,213.89 274.02,213.95 280.98,214.02 287.95,214.08 294.92,214.15 301.89,214.21 308.86,214.28 315.83,214.34 322.79,214.41 329.76,214.47 336.73,214.54 343.7,214.6"/>
<polyline fill="none" stroke="#f0289c" stroke-width="1.2" stroke-linejoin="round" points="211.3,160.1 218.27,209.2 225.24,213.5 232.21,213.56 239.17,213.62 246.14,213.68 253.11,213.74 260.08,213.79 267.05,213.85 274.02,213.91 280.98,213.97 287.95,214.03 294.92,214.09 301.89,214.15 308.86,214.21 315.83,214.26 322.79,214.32 329.76,214.38 336.73,214.44 343.7,214.5"/>
<polyline fill="none" stroke="#808026" stroke-width="1.2" stroke-linejoin="round" points="211.3,135.6 218.27,207.5 225.24,213.2 232.21,214.2 239.17,214.22 246.14,214.25 253.11,214.27 260.08,214.3 267.05,214.32 274.02,214.35 280.98,214.38 287.95,214.4 294.92,214.42 301.89,214.45 308.86,214.47 315.83,214.5 322.79,214.53 329.76,214.55 336.73,214.57 343.7,214.6"/>
<polyline fill="none" stroke="#6464c0" stroke-width="1.2" stroke-linejoin="round" points="211.3,134.5 218.27,199.4 225.24,213 232.21,214 239.17,214.04 246.14,214.07 253.11,214.11 260.08,214.15 267.05,214.19 274.02,214.22 280.98,214.26 287.95,214.3 294.92,214.34 301.89,214.38 308.86,214.41 315.83,214.45 322.79,214.49 329.76,214.53 336.73,214.56 343.7,214.6"/>
<polyline fill="none" stroke="#b4b4b4" stroke-width="1.2" stroke-linejoin="round" points="211.3,135.6 218.27,213 225.24,214 232.21,214.04 239.17,214.07 246.14,214.11 253.11,214.14 260.08,214.18 267.05,214.21 274.02,214.25 280.98,214.28 287.95,214.32 294.92,214.35 301.89,214.39 308.86,214.42 315.83,214.46 322.79,214.49 329.76,214.53 336.73,214.56 343.7,214.6"/>
<path d="M209.45 168.1L213.15 168.1L211.3 171.7Z" fill="#000000"/><path d="M216.42 213.7L220.12 213.7L218.27 217.3Z" fill="#000000"/><path d="M223.39 213.69L227.09 213.69L225.24 217.29Z" fill="#000000"/><path d="M230.36 213.68L234.06 213.68L232.21 217.28Z" fill="#000000"/><path d="M237.32 213.67L241.02 213.67L239.17 217.27Z" fill="#000000"/><path d="M244.29 213.66L247.99 213.66L246.14 217.26Z" fill="#000000"/><path d="M251.26 213.64L254.96 213.64L253.11 217.24Z" fill="#000000"/><path d="M258.23 213.63L261.93 213.63L260.08 217.23Z" fill="#000000"/><path d="M265.2 213.62L268.9 213.62L267.05 217.22Z" fill="#000000"/><path d="M272.17 213.61L275.87 213.61L274.02 217.21Z" fill="#000000"/><path d="M279.13 213.6L282.83 213.6L280.98 217.2Z" fill="#000000"/><path d="M286.1 213.59L289.8 213.59L287.95 217.19Z" fill="#000000"/><path d="M293.07 213.58L296.77 213.58L294.92 217.18Z" fill="#000000"/><path d="M300.04 213.57L303.74 213.57L301.89 217.17Z" fill="#000000"/><path d="M307.01 213.56L310.71 213.56L308.86 217.16Z" fill="#000000"/><path d="M313.98 213.54L317.68 213.54L315.83 217.14Z" fill="#000000"/><path d="M320.94 213.53L324.64 213.53L322.79 217.13Z" fill="#000000"/><path d="M327.91 213.52L331.61 213.52L329.76 217.12Z" fill="#000000"/><path d="M334.88 213.51L338.58 213.51L336.73 217.11Z" fill="#000000"/><path d="M341.85 213.5L345.55 213.5L343.7 217.1Z" fill="#000000"/>
<circle cx="211.3" cy="135.6" r="1.8" fill="#ff1a1a"/><circle cx="218.27" cy="199.4" r="1.8" fill="#ff1a1a"/><circle cx="225.24" cy="199.4" r="1.8" fill="#ff1a1a"/><circle cx="232.21" cy="202.8" r="1.8" fill="#ff1a1a"/><circle cx="239.17" cy="211" r="1.8" fill="#ff1a1a"/><circle cx="246.14" cy="212.8" r="1.8" fill="#ff1a1a"/><circle cx="253.11" cy="214" r="1.8" fill="#ff1a1a"/><circle cx="260.08" cy="214.05" r="1.8" fill="#ff1a1a"/><circle cx="267.05" cy="214.09" r="1.8" fill="#ff1a1a"/><circle cx="274.02" cy="214.14" r="1.8" fill="#ff1a1a"/><circle cx="280.98" cy="214.18" r="1.8" fill="#ff1a1a"/><circle cx="287.95" cy="214.23" r="1.8" fill="#ff1a1a"/><circle cx="294.92" cy="214.28" r="1.8" fill="#ff1a1a"/><circle cx="301.89" cy="214.32" r="1.8" fill="#ff1a1a"/><circle cx="308.86" cy="214.37" r="1.8" fill="#ff1a1a"/><circle cx="315.83" cy="214.42" r="1.8" fill="#ff1a1a"/><circle cx="322.79" cy="214.46" r="1.8" fill="#ff1a1a"/><circle cx="329.76" cy="214.51" r="1.8" fill="#ff1a1a"/><circle cx="336.73" cy="214.55" r="1.8" fill="#ff1a1a"/><circle cx="343.7" cy="214.6" r="1.8" fill="#ff1a1a"/>
<path d="M209.4 136.9L213.2 136.9L211.3 133.4Z" fill="#808026"/><path d="M216.37 208.8L220.17 208.8L218.27 205.3Z" fill="#808026"/><path d="M223.34 214.5L227.14 214.5L225.24 211Z" fill="#808026"/><path d="M230.31 215.5L234.11 215.5L232.21 212Z" fill="#808026"/><path d="M237.27 215.53L241.07 215.53L239.17 212.03Z" fill="#808026"/><path d="M244.24 215.55L248.04 215.55L246.14 212.05Z" fill="#808026"/><path d="M251.21 215.57L255.01 215.57L253.11 212.07Z" fill="#808026"/><path d="M258.18 215.6L261.98 215.6L260.08 212.1Z" fill="#808026"/><path d="M265.15 215.62L268.95 215.62L267.05 212.12Z" fill="#808026"/><path d="M272.12 215.65L275.92 215.65L274.02 212.15Z" fill="#808026"/><path d="M279.08 215.68L282.88 215.68L280.98 212.18Z" fill="#808026"/><path d="M286.05 215.7L289.85 215.7L287.95 212.2Z" fill="#808026"/><path d="M293.02 215.72L296.82 215.72L294.92 212.22Z" fill="#808026"/><path d="M299.99 215.75L303.79 215.75L301.89 212.25Z" fill="#808026"/><path d="M306.96 215.78L310.76 215.78L308.86 212.28Z" fill="#808026"/><path d="M313.93 215.8L317.73 215.8L315.83 212.3Z" fill="#808026"/><path d="M320.89 215.83L324.69 215.83L322.79 212.33Z" fill="#808026"/><path d="M327.86 215.85L331.66 215.85L329.76 212.35Z" fill="#808026"/><path d="M334.83 215.88L338.63 215.88L336.73 212.38Z" fill="#808026"/><path d="M341.8 215.9L345.6 215.9L343.7 212.4Z" fill="#808026"/>
<circle cx="211.3" cy="160.1" r="1.8" fill="#f0289c"/><circle cx="218.27" cy="209.2" r="1.8" fill="#f0289c"/><circle cx="225.24" cy="213.5" r="1.8" fill="#f0289c"/><circle cx="232.21" cy="213.56" r="1.8" fill="#f0289c"/><circle cx="239.17" cy="213.62" r="1.8" fill="#f0289c"/><circle cx="246.14" cy="213.68" r="1.8" fill="#f0289c"/><circle cx="253.11" cy="213.74" r="1.8" fill="#f0289c"/><circle cx="260.08" cy="213.79" r="1.8" fill="#f0289c"/><circle cx="267.05" cy="213.85" r="1.8" fill="#f0289c"/><circle cx="274.02" cy="213.91" r="1.8" fill="#f0289c"/><circle cx="280.98" cy="213.97" r="1.8" fill="#f0289c"/><circle cx="287.95" cy="214.03" r="1.8" fill="#f0289c"/><circle cx="294.92" cy="214.09" r="1.8" fill="#f0289c"/><circle cx="301.89" cy="214.15" r="1.8" fill="#f0289c"/><circle cx="308.86" cy="214.21" r="1.8" fill="#f0289c"/><circle cx="315.83" cy="214.26" r="1.8" fill="#f0289c"/><circle cx="322.79" cy="214.32" r="1.8" fill="#f0289c"/><circle cx="329.76" cy="214.38" r="1.8" fill="#f0289c"/><circle cx="336.73" cy="214.44" r="1.8" fill="#f0289c"/><circle cx="343.7" cy="214.5" r="1.8" fill="#f0289c"/>
<circle cx="211.3" cy="135.6" r="1.8" fill="#14cc5a"/><circle cx="218.27" cy="210.8" r="1.8" fill="#14cc5a"/><circle cx="225.24" cy="213.5" r="1.8" fill="#14cc5a"/><circle cx="232.21" cy="213.56" r="1.8" fill="#14cc5a"/><circle cx="239.17" cy="213.63" r="1.8" fill="#14cc5a"/><circle cx="246.14" cy="213.69" r="1.8" fill="#14cc5a"/><circle cx="253.11" cy="213.76" r="1.8" fill="#14cc5a"/><circle cx="260.08" cy="213.82" r="1.8" fill="#14cc5a"/><circle cx="267.05" cy="213.89" r="1.8" fill="#14cc5a"/><circle cx="274.02" cy="213.95" r="1.8" fill="#14cc5a"/><circle cx="280.98" cy="214.02" r="1.8" fill="#14cc5a"/><circle cx="287.95" cy="214.08" r="1.8" fill="#14cc5a"/><circle cx="294.92" cy="214.15" r="1.8" fill="#14cc5a"/><circle cx="301.89" cy="214.21" r="1.8" fill="#14cc5a"/><circle cx="308.86" cy="214.28" r="1.8" fill="#14cc5a"/><circle cx="315.83" cy="214.34" r="1.8" fill="#14cc5a"/><circle cx="322.79" cy="214.41" r="1.8" fill="#14cc5a"/><circle cx="329.76" cy="214.47" r="1.8" fill="#14cc5a"/><circle cx="336.73" cy="214.54" r="1.8" fill="#14cc5a"/><circle cx="343.7" cy="214.6" r="1.8" fill="#14cc5a"/>
<circle cx="211.3" cy="135.6" r="1.8" fill="#e6195c"/><circle cx="218.27" cy="199.4" r="1.8" fill="#e6195c"/><circle cx="225.24" cy="199.6" r="1.8" fill="#e6195c"/><circle cx="232.21" cy="199.9" r="1.8" fill="#e6195c"/><circle cx="239.17" cy="204.1" r="1.8" fill="#e6195c"/><circle cx="246.14" cy="212.7" r="1.8" fill="#e6195c"/><circle cx="253.11" cy="213.8" r="1.8" fill="#e6195c"/><circle cx="260.08" cy="213.85" r="1.8" fill="#e6195c"/><circle cx="267.05" cy="213.91" r="1.8" fill="#e6195c"/><circle cx="274.02" cy="213.96" r="1.8" fill="#e6195c"/><circle cx="280.98" cy="214.02" r="1.8" fill="#e6195c"/><circle cx="287.95" cy="214.07" r="1.8" fill="#e6195c"/><circle cx="294.92" cy="214.12" r="1.8" fill="#e6195c"/><circle cx="301.89" cy="214.18" r="1.8" fill="#e6195c"/><circle cx="308.86" cy="214.23" r="1.8" fill="#e6195c"/><circle cx="315.83" cy="214.28" r="1.8" fill="#e6195c"/><circle cx="322.79" cy="214.34" r="1.8" fill="#e6195c"/><circle cx="329.76" cy="214.39" r="1.8" fill="#e6195c"/><circle cx="336.73" cy="214.45" r="1.8" fill="#e6195c"/><circle cx="343.7" cy="214.5" r="1.8" fill="#e6195c"/>
<path d="M209.4 135.8L213.2 135.8L211.3 132.3Z" fill="#6464c0"/><path d="M216.37 200.7L220.17 200.7L218.27 197.2Z" fill="#6464c0"/><path d="M223.34 214.3L227.14 214.3L225.24 210.8Z" fill="#6464c0"/><path d="M230.31 215.3L234.11 215.3L232.21 211.8Z" fill="#6464c0"/><path d="M237.27 215.34L241.07 215.34L239.17 211.84Z" fill="#6464c0"/><path d="M244.24 215.38L248.04 215.38L246.14 211.88Z" fill="#6464c0"/><path d="M251.21 215.41L255.01 215.41L253.11 211.91Z" fill="#6464c0"/><path d="M258.18 215.45L261.98 215.45L260.08 211.95Z" fill="#6464c0"/><path d="M265.15 215.49L268.95 215.49L267.05 211.99Z" fill="#6464c0"/><path d="M272.12 215.53L275.92 215.53L274.02 212.03Z" fill="#6464c0"/><path d="M279.08 215.56L282.88 215.56L280.98 212.06Z" fill="#6464c0"/><path d="M286.05 215.6L289.85 215.6L287.95 212.1Z" fill="#6464c0"/><path d="M293.02 215.64L296.82 215.64L294.92 212.14Z" fill="#6464c0"/><path d="M299.99 215.68L303.79 215.68L301.89 212.18Z" fill="#6464c0"/><path d="M306.96 215.71L310.76 215.71L308.86 212.21Z" fill="#6464c0"/><path d="M313.93 215.75L317.73 215.75L315.83 212.25Z" fill="#6464c0"/><path d="M320.89 215.79L324.69 215.79L322.79 212.29Z" fill="#6464c0"/><path d="M327.86 215.83L331.66 215.83L329.76 212.33Z" fill="#6464c0"/><path d="M334.83 215.86L338.63 215.86L336.73 212.36Z" fill="#6464c0"/><path d="M341.8 215.9L345.6 215.9L343.7 212.4Z" fill="#6464c0"/>
<circle cx="211.3" cy="135.6" r="1.9" fill="#b4b4b4"/><circle cx="218.27" cy="213" r="1.9" fill="#b4b4b4"/><circle cx="225.24" cy="214" r="1.9" fill="#b4b4b4"/><circle cx="232.21" cy="214.04" r="1.9" fill="#b4b4b4"/><circle cx="239.17" cy="214.07" r="1.9" fill="#b4b4b4"/><circle cx="246.14" cy="214.11" r="1.9" fill="#b4b4b4"/><circle cx="253.11" cy="214.14" r="1.9" fill="#b4b4b4"/><circle cx="260.08" cy="214.18" r="1.9" fill="#b4b4b4"/><circle cx="267.05" cy="214.21" r="1.9" fill="#b4b4b4"/><circle cx="274.02" cy="214.25" r="1.9" fill="#b4b4b4"/><circle cx="280.98" cy="214.28" r="1.9" fill="#b4b4b4"/><circle cx="287.95" cy="214.32" r="1.9" fill="#b4b4b4"/><circle cx="294.92" cy="214.35" r="1.9" fill="#b4b4b4"/><circle cx="301.89" cy="214.39" r="1.9" fill="#b4b4b4"/><circle cx="308.86" cy="214.42" r="1.9" fill="#b4b4b4"/><circle cx="315.83" cy="214.46" r="1.9" fill="#b4b4b4"/><circle cx="322.79" cy="214.49" r="1.9" fill="#b4b4b4"/><circle cx="329.76" cy="214.53" r="1.9" fill="#b4b4b4"/><circle cx="336.73" cy="214.56" r="1.9" fill="#b4b4b4"/><circle cx="343.7" cy="214.6" r="1.9" fill="#b4b4b4"/>
<g fill="#333" stroke="#333" stroke-width="0.15"><text transform="translate(210.1 128.7) scale(1 1.12)" text-anchor="end" font-size="5.5">10<tspan font-size="3.6" dy="-2.2">5</tspan></text><text transform="translate(210.1 186.4) scale(1 1.12)" text-anchor="end" font-size="5.5">10<tspan font-size="3.6" dy="-2.2">4</tspan></text><text transform="translate(211.3 222.5) scale(1 1.12)" text-anchor="middle" font-size="5.2">0</text><text transform="translate(237.78 222.5) scale(1 1.12)" text-anchor="middle" font-size="5.2">200</text><text transform="translate(264.26 222.5) scale(1 1.12)" text-anchor="middle" font-size="5.2">400</text><text transform="translate(290.74 222.5) scale(1 1.12)" text-anchor="middle" font-size="5.2">600</text><text transform="translate(317.22 222.5) scale(1 1.12)" text-anchor="middle" font-size="5.2">800</text><text transform="translate(343.7 222.5) scale(1 1.12)" text-anchor="middle" font-size="5.2">1000</text><text transform="translate(277.5 229.7) scale(1 1.12)" text-anchor="middle" font-size="5.6">Iterations</text><text transform="translate(199.6 171.05) rotate(-90) scale(1 1.12)" text-anchor="middle" font-size="5.8">Average Fitness</text></g>
<g fill="#222" stroke="#222" stroke-width="0.16"><text transform="translate(277.5 124.8) scale(1 1.12)" text-anchor="middle" font-size="5.9">CEC2022 F11 Dim=10</text></g>
<g stroke="#f3f3f3" stroke-width="0.5"><line x1="393.3" y1="213.84" x2="525.7" y2="213.84"/><line x1="393.3" y1="211.43" x2="525.7" y2="211.43"/><line x1="393.3" y1="209.01" x2="525.7" y2="209.01"/><line x1="393.3" y1="204.19" x2="525.7" y2="204.19"/><line x1="393.3" y1="201.77" x2="525.7" y2="201.77"/><line x1="393.3" y1="199.36" x2="525.7" y2="199.36"/><line x1="393.3" y1="196.95" x2="525.7" y2="196.95"/><line x1="393.3" y1="192.12" x2="525.7" y2="192.12"/><line x1="393.3" y1="189.71" x2="525.7" y2="189.71"/><line x1="393.3" y1="187.3" x2="525.7" y2="187.3"/><line x1="393.3" y1="184.88" x2="525.7" y2="184.88"/><line x1="393.3" y1="180.06" x2="525.7" y2="180.06"/><line x1="393.3" y1="177.64" x2="525.7" y2="177.64"/><line x1="393.3" y1="175.23" x2="525.7" y2="175.23"/><line x1="393.3" y1="172.82" x2="525.7" y2="172.82"/><line x1="393.3" y1="167.99" x2="525.7" y2="167.99"/><line x1="393.3" y1="165.58" x2="525.7" y2="165.58"/><line x1="393.3" y1="163.17" x2="525.7" y2="163.17"/><line x1="393.3" y1="160.75" x2="525.7" y2="160.75"/><line x1="393.3" y1="155.93" x2="525.7" y2="155.93"/><line x1="393.3" y1="153.51" x2="525.7" y2="153.51"/><line x1="393.3" y1="151.1" x2="525.7" y2="151.1"/><line x1="393.3" y1="148.69" x2="525.7" y2="148.69"/><line x1="393.3" y1="143.86" x2="525.7" y2="143.86"/><line x1="393.3" y1="141.45" x2="525.7" y2="141.45"/><line x1="393.3" y1="139.04" x2="525.7" y2="139.04"/><line x1="393.3" y1="136.62" x2="525.7" y2="136.62"/><line x1="393.3" y1="131.8" x2="525.7" y2="131.8"/><line x1="393.3" y1="129.38" x2="525.7" y2="129.38"/><line x1="393.3" y1="126.97" x2="525.7" y2="126.97"/></g>
<g stroke="#e4e4e4" stroke-width="0.6"><line x1="419.78" y1="126.2" x2="419.78" y2="215.9"/><line x1="446.26" y1="126.2" x2="446.26" y2="215.9"/><line x1="472.74" y1="126.2" x2="472.74" y2="215.9"/><line x1="499.22" y1="126.2" x2="499.22" y2="215.9"/><line x1="393.3" y1="134.2" x2="525.7" y2="134.2"/><line x1="393.3" y1="145.7" x2="525.7" y2="145.7"/><line x1="393.3" y1="157.4" x2="525.7" y2="157.4"/><line x1="393.3" y1="169.3" x2="525.7" y2="169.3"/><line x1="393.3" y1="181.3" x2="525.7" y2="181.3"/><line x1="393.3" y1="194.1" x2="525.7" y2="194.1"/><line x1="393.3" y1="206.6" x2="525.7" y2="206.6"/></g>
<g stroke="#a0a0a0" stroke-width="0.6"><line x1="393.3" y1="215.9" x2="393.3" y2="214.6"/><line x1="393.3" y1="126.2" x2="393.3" y2="127.5"/><line x1="419.78" y1="215.9" x2="419.78" y2="214.6"/><line x1="419.78" y1="126.2" x2="419.78" y2="127.5"/><line x1="446.26" y1="215.9" x2="446.26" y2="214.6"/><line x1="446.26" y1="126.2" x2="446.26" y2="127.5"/><line x1="472.74" y1="215.9" x2="472.74" y2="214.6"/><line x1="472.74" y1="126.2" x2="472.74" y2="127.5"/><line x1="499.22" y1="215.9" x2="499.22" y2="214.6"/><line x1="499.22" y1="126.2" x2="499.22" y2="127.5"/><line x1="525.7" y1="215.9" x2="525.7" y2="214.6"/><line x1="525.7" y1="126.2" x2="525.7" y2="127.5"/><line x1="393.3" y1="134.2" x2="394.6" y2="134.2"/><line x1="525.7" y1="134.2" x2="524.4" y2="134.2"/><line x1="393.3" y1="145.7" x2="394.6" y2="145.7"/><line x1="525.7" y1="145.7" x2="524.4" y2="145.7"/><line x1="393.3" y1="157.4" x2="394.6" y2="157.4"/><line x1="525.7" y1="157.4" x2="524.4" y2="157.4"/><line x1="393.3" y1="169.3" x2="394.6" y2="169.3"/><line x1="525.7" y1="169.3" x2="524.4" y2="169.3"/><line x1="393.3" y1="181.3" x2="394.6" y2="181.3"/><line x1="525.7" y1="181.3" x2="524.4" y2="181.3"/><line x1="393.3" y1="194.1" x2="394.6" y2="194.1"/><line x1="525.7" y1="194.1" x2="524.4" y2="194.1"/><line x1="393.3" y1="206.6" x2="394.6" y2="206.6"/><line x1="525.7" y1="206.6" x2="524.4" y2="206.6"/></g>
<rect x="393.3" y="126.2" width="132.4" height="89.7" fill="none" stroke="#a6a6a6" stroke-width="0.8"/>
<polyline fill="none" stroke="#000000" stroke-width="1.2" stroke-linejoin="round" points="393.3,194.5 400.27,214.5 407.24,214.5 414.21,214.5 421.17,214.5 428.14,214.5 435.11,214.5 442.08,214.5 449.05,214.5 456.02,214.5 462.98,214.5 469.95,214.5 476.92,214.5 483.89,214.5 490.86,214.5 497.83,214.5 504.79,214.5 511.76,214.5 518.73,214.5 525.7,214.5"/>
<polyline fill="none" stroke="#ff1a1a" stroke-width="1.2" stroke-linejoin="round" points="393.3,126.5 400.27,207.8 407.24,208.5 414.21,209.5 421.17,210.2 428.14,210.5 435.11,210.5 442.08,210.5 449.05,210.5 456.02,210.5 462.98,210.5 469.95,210.5 476.92,210.5 483.89,210.5 490.86,210.5 497.83,210.5 504.79,210.5 511.76,210.5 518.73,210.5 525.7,210.5"/>
<polyline fill="none" stroke="#e6195c" stroke-width="1.2" stroke-linejoin="round" points="393.3,126.5 400.27,207.6 407.24,208.4 414.21,209.4 421.17,210.2 428.14,210.5 435.11,210.5 442.08,210.5 449.05,210.5 456.02,210.5 462.98,210.5 469.95,210.5 476.92,210.5 483.89,210.5 490.86,210.5 497.83,210.5 504.79,210.5 511.76,210.5 518.73,210.5 525.7,210.5"/>
<polyline fill="none" stroke="#14cc5a" stroke-width="1.2" stroke-linejoin="round" points="393.3,126.5 400.27,211.4 407.24,211.3 414.21,211.2 421.17,211 428.14,210.8 435.11,210.6 442.08,210.59 449.05,210.58 456.02,210.58 462.98,210.57 469.95,210.56 476.92,210.55 483.89,210.55 490.86,210.54 497.83,210.53 504.79,210.52 511.76,210.52 518.73,210.51 525.7,210.5"/>
<polyline fill="none" stroke="#f0289c" stroke-width="1.2" stroke-linejoin="round" points="393.3,126.5 400.27,208.2 407.24,208.9 414.21,209.6 421.17,210.3 428.14,210.5 435.11,210.5 442.08,210.5 449.05,210.5 456.02,210.5 462.98,210.5 469.95,210.5 476.92,210.5 483.89,210.5 490.86,210.5 497.83,210.5 504.79,210.5 511.76,210.5 518.73,210.5 525.7,210.5"/>
<polyline fill="none" stroke="#808026" stroke-width="1.2" stroke-linejoin="round" points="393.3,142 400.27,210.3 407.24,210.5 414.21,210.5 421.17,210.5 428.14,210.5 435.11,210.5 442.08,210.5 449.05,210.5 456.02,210.5 462.98,210.5 469.95,210.5 476.92,210.5 483.89,210.5 490.86,210.5 497.83,210.5 504.79,210.5 511.76,210.5 518.73,210.5 525.7,210.5"/>
<polyline fill="none" stroke="#6464c0" stroke-width="1.2" stroke-linejoin="round" points="393.3,126.5 400.27,210.4 407.24,210.5 414.21,210.5 421.17,210.5 428.14,210.5 435.11,210.5 442.08,210.5 449.05,210.5 456.02,210.5 462.98,210.5 469.95,210.5 476.92,210.5 483.89,210.5 490.86,210.5 497.83,210.5 504.79,210.5 511.76,210.5 518.73,210.5 525.7,210.5"/>
<polyline fill="none" stroke="#b4b4b4" stroke-width="1.2" stroke-linejoin="round" points="393.3,126.5 400.27,210.5 407.24,210.5 414.21,210.5 421.17,210.5 428.14,210.5 435.11,210.5 442.08,210.5 449.05,210.5 456.02,210.5 462.98,210.5 469.95,210.5 476.92,210.5 483.89,210.5 490.86,210.5 497.83,210.5 504.79,210.5 511.76,210.5 518.73,210.5 525.7,210.5"/>
<path d="M391.45 193.6L395.15 193.6L393.3 197.2Z" fill="#000000"/><path d="M398.42 213.6L402.12 213.6L400.27 217.2Z" fill="#000000"/><path d="M405.39 213.6L409.09 213.6L407.24 217.2Z" fill="#000000"/><path d="M412.36 213.6L416.06 213.6L414.21 217.2Z" fill="#000000"/><path d="M419.32 213.6L423.02 213.6L421.17 217.2Z" fill="#000000"/><path d="M426.29 213.6L429.99 213.6L428.14 217.2Z" fill="#000000"/><path d="M433.26 213.6L436.96 213.6L435.11 217.2Z" fill="#000000"/><path d="M440.23 213.6L443.93 213.6L442.08 217.2Z" fill="#000000"/><path d="M447.2 213.6L450.9 213.6L449.05 217.2Z" fill="#000000"/><path d="M454.17 213.6L457.87 213.6L456.02 217.2Z" fill="#000000"/><path d="M461.13 213.6L464.83 213.6L462.98 217.2Z" fill="#000000"/><path d="M468.1 213.6L471.8 213.6L469.95 217.2Z" fill="#000000"/><path d="M475.07 213.6L478.77 213.6L476.92 217.2Z" fill="#000000"/><path d="M482.04 213.6L485.74 213.6L483.89 217.2Z" fill="#000000"/><path d="M489.01 213.6L492.71 213.6L490.86 217.2Z" fill="#000000"/><path d="M495.98 213.6L499.68 213.6L497.83 217.2Z" fill="#000000"/><path d="M502.94 213.6L506.64 213.6L504.79 217.2Z" fill="#000000"/><path d="M509.91 213.6L513.61 213.6L511.76 217.2Z" fill="#000000"/><path d="M516.88 213.6L520.58 213.6L518.73 217.2Z" fill="#000000"/><path d="M523.85 213.6L527.55 213.6L525.7 217.2Z" fill="#000000"/>
<circle cx="393.3" cy="126.5" r="1.8" fill="#ff1a1a"/><circle cx="400.27" cy="207.8" r="1.8" fill="#ff1a1a"/><circle cx="407.24" cy="208.5" r="1.8" fill="#ff1a1a"/><circle cx="414.21" cy="209.5" r="1.8" fill="#ff1a1a"/><circle cx="421.17" cy="210.2" r="1.8" fill="#ff1a1a"/><circle cx="428.14" cy="210.5" r="1.8" fill="#ff1a1a"/><circle cx="435.11" cy="210.5" r="1.8" fill="#ff1a1a"/><circle cx="442.08" cy="210.5" r="1.8" fill="#ff1a1a"/><circle cx="449.05" cy="210.5" r="1.8" fill="#ff1a1a"/><circle cx="456.02" cy="210.5" r="1.8" fill="#ff1a1a"/><circle cx="462.98" cy="210.5" r="1.8" fill="#ff1a1a"/><circle cx="469.95" cy="210.5" r="1.8" fill="#ff1a1a"/><circle cx="476.92" cy="210.5" r="1.8" fill="#ff1a1a"/><circle cx="483.89" cy="210.5" r="1.8" fill="#ff1a1a"/><circle cx="490.86" cy="210.5" r="1.8" fill="#ff1a1a"/><circle cx="497.83" cy="210.5" r="1.8" fill="#ff1a1a"/><circle cx="504.79" cy="210.5" r="1.8" fill="#ff1a1a"/><circle cx="511.76" cy="210.5" r="1.8" fill="#ff1a1a"/><circle cx="518.73" cy="210.5" r="1.8" fill="#ff1a1a"/><circle cx="525.7" cy="210.5" r="1.8" fill="#ff1a1a"/>
<path d="M391.4 143.3L395.2 143.3L393.3 139.8Z" fill="#808026"/><path d="M398.37 211.6L402.17 211.6L400.27 208.1Z" fill="#808026"/><path d="M405.34 211.8L409.14 211.8L407.24 208.3Z" fill="#808026"/><path d="M412.31 211.8L416.11 211.8L414.21 208.3Z" fill="#808026"/><path d="M419.27 211.8L423.07 211.8L421.17 208.3Z" fill="#808026"/><path d="M426.24 211.8L430.04 211.8L428.14 208.3Z" fill="#808026"/><path d="M433.21 211.8L437.01 211.8L435.11 208.3Z" fill="#808026"/><path d="M440.18 211.8L443.98 211.8L442.08 208.3Z" fill="#808026"/><path d="M447.15 211.8L450.95 211.8L449.05 208.3Z" fill="#808026"/><path d="M454.12 211.8L457.92 211.8L456.02 208.3Z" fill="#808026"/><path d="M461.08 211.8L464.88 211.8L462.98 208.3Z" fill="#808026"/><path d="M468.05 211.8L471.85 211.8L469.95 208.3Z" fill="#808026"/><path d="M475.02 211.8L478.82 211.8L476.92 208.3Z" fill="#808026"/><path d="M481.99 211.8L485.79 211.8L483.89 208.3Z" fill="#808026"/><path d="M488.96 211.8L492.76 211.8L490.86 208.3Z" fill="#808026"/><path d="M495.93 211.8L499.73 211.8L497.83 208.3Z" fill="#808026"/><path d="M502.89 211.8L506.69 211.8L504.79 208.3Z" fill="#808026"/><path d="M509.86 211.8L513.66 211.8L511.76 208.3Z" fill="#808026"/><path d="M516.83 211.8L520.63 211.8L518.73 208.3Z" fill="#808026"/><path d="M523.8 211.8L527.6 211.8L525.7 208.3Z" fill="#808026"/>
<circle cx="393.3" cy="126.5" r="1.8" fill="#f0289c"/><circle cx="400.27" cy="208.2" r="1.8" fill="#f0289c"/><circle cx="407.24" cy="208.9" r="1.8" fill="#f0289c"/><circle cx="414.21" cy="209.6" r="1.8" fill="#f0289c"/><circle cx="421.17" cy="210.3" r="1.8" fill="#f0289c"/><circle cx="428.14" cy="210.5" r="1.8" fill="#f0289c"/><circle cx="435.11" cy="210.5" r="1.8" fill="#f0289c"/><circle cx="442.08" cy="210.5" r="1.8" fill="#f0289c"/><circle cx="449.05" cy="210.5" r="1.8" fill="#f0289c"/><circle cx="456.02" cy="210.5" r="1.8" fill="#f0289c"/><circle cx="462.98" cy="210.5" r="1.8" fill="#f0289c"/><circle cx="469.95" cy="210.5" r="1.8" fill="#f0289c"/><circle cx="476.92" cy="210.5" r="1.8" fill="#f0289c"/><circle cx="483.89" cy="210.5" r="1.8" fill="#f0289c"/><circle cx="490.86" cy="210.5" r="1.8" fill="#f0289c"/><circle cx="497.83" cy="210.5" r="1.8" fill="#f0289c"/><circle cx="504.79" cy="210.5" r="1.8" fill="#f0289c"/><circle cx="511.76" cy="210.5" r="1.8" fill="#f0289c"/><circle cx="518.73" cy="210.5" r="1.8" fill="#f0289c"/><circle cx="525.7" cy="210.5" r="1.8" fill="#f0289c"/>
<circle cx="393.3" cy="126.5" r="1.8" fill="#14cc5a"/><circle cx="400.27" cy="211.4" r="1.8" fill="#14cc5a"/><circle cx="407.24" cy="211.3" r="1.8" fill="#14cc5a"/><circle cx="414.21" cy="211.2" r="1.8" fill="#14cc5a"/><circle cx="421.17" cy="211" r="1.8" fill="#14cc5a"/><circle cx="428.14" cy="210.8" r="1.8" fill="#14cc5a"/><circle cx="435.11" cy="210.6" r="1.8" fill="#14cc5a"/><circle cx="442.08" cy="210.59" r="1.8" fill="#14cc5a"/><circle cx="449.05" cy="210.58" r="1.8" fill="#14cc5a"/><circle cx="456.02" cy="210.58" r="1.8" fill="#14cc5a"/><circle cx="462.98" cy="210.57" r="1.8" fill="#14cc5a"/><circle cx="469.95" cy="210.56" r="1.8" fill="#14cc5a"/><circle cx="476.92" cy="210.55" r="1.8" fill="#14cc5a"/><circle cx="483.89" cy="210.55" r="1.8" fill="#14cc5a"/><circle cx="490.86" cy="210.54" r="1.8" fill="#14cc5a"/><circle cx="497.83" cy="210.53" r="1.8" fill="#14cc5a"/><circle cx="504.79" cy="210.52" r="1.8" fill="#14cc5a"/><circle cx="511.76" cy="210.52" r="1.8" fill="#14cc5a"/><circle cx="518.73" cy="210.51" r="1.8" fill="#14cc5a"/><circle cx="525.7" cy="210.5" r="1.8" fill="#14cc5a"/>
<circle cx="393.3" cy="126.5" r="1.8" fill="#e6195c"/><circle cx="400.27" cy="207.6" r="1.8" fill="#e6195c"/><circle cx="407.24" cy="208.4" r="1.8" fill="#e6195c"/><circle cx="414.21" cy="209.4" r="1.8" fill="#e6195c"/><circle cx="421.17" cy="210.2" r="1.8" fill="#e6195c"/><circle cx="428.14" cy="210.5" r="1.8" fill="#e6195c"/><circle cx="435.11" cy="210.5" r="1.8" fill="#e6195c"/><circle cx="442.08" cy="210.5" r="1.8" fill="#e6195c"/><circle cx="449.05" cy="210.5" r="1.8" fill="#e6195c"/><circle cx="456.02" cy="210.5" r="1.8" fill="#e6195c"/><circle cx="462.98" cy="210.5" r="1.8" fill="#e6195c"/><circle cx="469.95" cy="210.5" r="1.8" fill="#e6195c"/><circle cx="476.92" cy="210.5" r="1.8" fill="#e6195c"/><circle cx="483.89" cy="210.5" r="1.8" fill="#e6195c"/><circle cx="490.86" cy="210.5" r="1.8" fill="#e6195c"/><circle cx="497.83" cy="210.5" r="1.8" fill="#e6195c"/><circle cx="504.79" cy="210.5" r="1.8" fill="#e6195c"/><circle cx="511.76" cy="210.5" r="1.8" fill="#e6195c"/><circle cx="518.73" cy="210.5" r="1.8" fill="#e6195c"/><circle cx="525.7" cy="210.5" r="1.8" fill="#e6195c"/>
<path d="M391.4 127.8L395.2 127.8L393.3 124.3Z" fill="#6464c0"/><path d="M398.37 211.7L402.17 211.7L400.27 208.2Z" fill="#6464c0"/><path d="M405.34 211.8L409.14 211.8L407.24 208.3Z" fill="#6464c0"/><path d="M412.31 211.8L416.11 211.8L414.21 208.3Z" fill="#6464c0"/><path d="M419.27 211.8L423.07 211.8L421.17 208.3Z" fill="#6464c0"/><path d="M426.24 211.8L430.04 211.8L428.14 208.3Z" fill="#6464c0"/><path d="M433.21 211.8L437.01 211.8L435.11 208.3Z" fill="#6464c0"/><path d="M440.18 211.8L443.98 211.8L442.08 208.3Z" fill="#6464c0"/><path d="M447.15 211.8L450.95 211.8L449.05 208.3Z" fill="#6464c0"/><path d="M454.12 211.8L457.92 211.8L456.02 208.3Z" fill="#6464c0"/><path d="M461.08 211.8L464.88 211.8L462.98 208.3Z" fill="#6464c0"/><path d="M468.05 211.8L471.85 211.8L469.95 208.3Z" fill="#6464c0"/><path d="M475.02 211.8L478.82 211.8L476.92 208.3Z" fill="#6464c0"/><path d="M481.99 211.8L485.79 211.8L483.89 208.3Z" fill="#6464c0"/><path d="M488.96 211.8L492.76 211.8L490.86 208.3Z" fill="#6464c0"/><path d="M495.93 211.8L499.73 211.8L497.83 208.3Z" fill="#6464c0"/><path d="M502.89 211.8L506.69 211.8L504.79 208.3Z" fill="#6464c0"/><path d="M509.86 211.8L513.66 211.8L511.76 208.3Z" fill="#6464c0"/><path d="M516.83 211.8L520.63 211.8L518.73 208.3Z" fill="#6464c0"/><path d="M523.8 211.8L527.6 211.8L525.7 208.3Z" fill="#6464c0"/>
<circle cx="393.3" cy="126.5" r="1.9" fill="#b4b4b4"/><circle cx="400.27" cy="210.5" r="1.9" fill="#b4b4b4"/><circle cx="407.24" cy="210.5" r="1.9" fill="#b4b4b4"/><circle cx="414.21" cy="210.5" r="1.9" fill="#b4b4b4"/><circle cx="421.17" cy="210.5" r="1.9" fill="#b4b4b4"/><circle cx="428.14" cy="210.5" r="1.9" fill="#b4b4b4"/><circle cx="435.11" cy="210.5" r="1.9" fill="#b4b4b4"/><circle cx="442.08" cy="210.5" r="1.9" fill="#b4b4b4"/><circle cx="449.05" cy="210.5" r="1.9" fill="#b4b4b4"/><circle cx="456.02" cy="210.5" r="1.9" fill="#b4b4b4"/><circle cx="462.98" cy="210.5" r="1.9" fill="#b4b4b4"/><circle cx="469.95" cy="210.5" r="1.9" fill="#b4b4b4"/><circle cx="476.92" cy="210.5" r="1.9" fill="#b4b4b4"/><circle cx="483.89" cy="210.5" r="1.9" fill="#b4b4b4"/><circle cx="490.86" cy="210.5" r="1.9" fill="#b4b4b4"/><circle cx="497.83" cy="210.5" r="1.9" fill="#b4b4b4"/><circle cx="504.79" cy="210.5" r="1.9" fill="#b4b4b4"/><circle cx="511.76" cy="210.5" r="1.9" fill="#b4b4b4"/><circle cx="518.73" cy="210.5" r="1.9" fill="#b4b4b4"/><circle cx="525.7" cy="210.5" r="1.9" fill="#b4b4b4"/>
<g fill="#333" stroke="#333" stroke-width="0.15"><text transform="translate(391.7 136.2) scale(1 1.12)" text-anchor="end" font-size="5.2">3200</text><text transform="translate(391.7 147.7) scale(1 1.12)" text-anchor="end" font-size="5.2">3150</text><text transform="translate(391.7 159.4) scale(1 1.12)" text-anchor="end" font-size="5.2">3100</text><text transform="translate(391.7 171.3) scale(1 1.12)" text-anchor="end" font-size="5.2">3050</text><text transform="translate(391.7 183.3) scale(1 1.12)" text-anchor="end" font-size="5.2">3000</text><text transform="translate(391.7 196.1) scale(1 1.12)" text-anchor="end" font-size="5.2">2950</text><text transform="translate(391.7 208.6) scale(1 1.12)" text-anchor="end" font-size="5.2">2900</text><text transform="translate(393.3 222.5) scale(1 1.12)" text-anchor="middle" font-size="5.2">0</text><text transform="translate(419.78 222.5) scale(1 1.12)" text-anchor="middle" font-size="5.2">200</text><text transform="translate(446.26 222.5) scale(1 1.12)" text-anchor="middle" font-size="5.2">400</text><text transform="translate(472.74 222.5) scale(1 1.12)" text-anchor="middle" font-size="5.2">600</text><text transform="translate(499.22 222.5) scale(1 1.12)" text-anchor="middle" font-size="5.2">800</text><text transform="translate(525.7 222.5) scale(1 1.12)" text-anchor="middle" font-size="5.2">1000</text><text transform="translate(459.5 229.7) scale(1 1.12)" text-anchor="middle" font-size="5.6">Iterations</text><text transform="translate(378 171.05) rotate(-90) scale(1 1.12)" text-anchor="middle" font-size="5.8">Average Fitness</text></g>
<g fill="#222" stroke="#222" stroke-width="0.16"><text transform="translate(459.5 124.8) scale(1 1.12)" text-anchor="middle" font-size="5.9">CEC2022 F12 Dim=10</text></g>
<g stroke="#4a4a4a" stroke-width="1.1"><line x1="1.5" y1="2" x2="1.5" y2="305"/><line x1="183.5" y1="2" x2="183.5" y2="233"/><line x1="365.5" y1="2" x2="365.5" y2="233"/><line x1="547.5" y1="2" x2="547.5" y2="305"/><line x1="1" y1="2.5" x2="548" y2="2.5"/><line x1="1" y1="117.5" x2="548" y2="117.5"/><line x1="1" y1="232.5" x2="548" y2="232.5"/><line x1="1" y1="304.5" x2="548" y2="304.5"/></g>
<rect x="123.5" y="249.5" width="299" height="45" fill="#fff" stroke="#a8a8a8" stroke-width="1"/>
<line x1="126.5" y1="261.9" x2="152.8" y2="261.9" stroke="#000000" stroke-width="1.4"/>
<circle cx="139.6" cy="261.9" r="3.3" fill="#000000"/>
<text x="155.1" y="266.5" font-size="12.4" fill="#000" stroke="#000" stroke-width="0.3">EMSMA</text>
<line x1="206.3" y1="261.9" x2="232.6" y2="261.9" stroke="#ff1a1a" stroke-width="1.4"/>
<circle cx="219.4" cy="261.9" r="3.3" fill="#ff1a1a"/>
<text x="234.9" y="266.5" font-size="12.4" fill="#000" stroke="#000" stroke-width="0.3">SMA</text>
<line x1="274.5" y1="261.9" x2="300.8" y2="261.9" stroke="#808026" stroke-width="1.4"/>
<circle cx="287.6" cy="261.9" r="3.3" fill="#808026"/>
<text x="303.1" y="266.5" font-size="12.4" fill="#000" stroke="#000" stroke-width="0.3">DTSMA</text>
<line x1="351.7" y1="261.9" x2="378" y2="261.9" stroke="#f0289c" stroke-width="1.4"/>
<circle cx="364.8" cy="261.9" r="3.3" fill="#f0289c"/>
<text x="380.3" y="266.5" font-size="12.4" fill="#000" stroke="#000" stroke-width="0.3">ISMA</text>
<line x1="126.5" y1="282.7" x2="152.8" y2="282.7" stroke="#14cc5a" stroke-width="1.4"/>
<circle cx="139.6" cy="282.7" r="3.3" fill="#14cc5a"/>
<text x="155.1" y="287.3" font-size="12.4" fill="#000" stroke="#000" stroke-width="0.3">AOSMA</text>
<line x1="206.3" y1="282.7" x2="232.6" y2="282.7" stroke="#e6195c" stroke-width="1.4"/>
<circle cx="219.4" cy="282.7" r="3.3" fill="#e6195c"/>
<text x="234.9" y="287.3" font-size="12.4" fill="#000" stroke="#000" stroke-width="0.3">LSMA</text>
<line x1="274.5" y1="282.7" x2="300.8" y2="282.7" stroke="#6464c0" stroke-width="1.4"/>
<circle cx="287.6" cy="282.7" r="3.3" fill="#6464c0"/>
<text x="303.1" y="287.3" font-size="12.4" fill="#000" stroke="#000" stroke-width="0.3">ESMA</text>
<line x1="351.7" y1="282.7" x2="378" y2="282.7" stroke="#b4b4b4" stroke-width="1.4"/>
<circle cx="364.8" cy="282.7" r="3.3" fill="#b4b4b4"/>
<text x="380.3" y="287.3" font-size="12.4" fill="#000" stroke="#000" stroke-width="0.3">MSMA</text>
</svg></body></html>
